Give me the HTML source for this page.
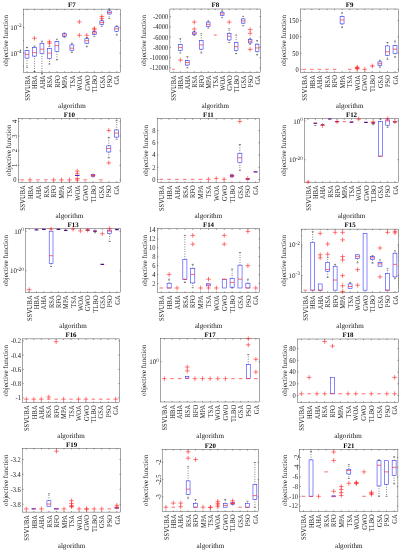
<!DOCTYPE html>
<html lang="en"><head><meta charset="utf-8"><title>Boxplots F7-F21</title>
<style>
html,body{margin:0;padding:0;background:#fff;}
body{width:403px;height:550px;overflow:hidden;}
svg{display:block;text-rendering:geometricPrecision;font-family:"Liberation Serif",serif;}
.tl{font-size:6.5px;fill:#181818;}
.lg{font-size:7.0px;}
.sup{font-size:5.2px;}
.pl{fill:none;stroke:#580c88;stroke-width:1.15;}
.tt{font-size:6.9px;font-weight:bold;fill:#000;}
.lb{font-size:7.1px;fill:#181818;}
.bx{fill:none;stroke:#2828ff;stroke-width:0.55;}
.md{fill:none;stroke:#ff2828;stroke-width:0.7;}
.wh{fill:none;stroke:#222;stroke-width:0.7;stroke-dasharray:0.8 1.6;}
.cap{fill:none;stroke:#222;stroke-width:0.6;}
.ol{fill:none;stroke:#ff2020;stroke-width:0.6;}
</style></head>
<body>
<svg width="403" height="550" viewBox="0 0 403 550">
<g>
<rect x="0" y="0" width="403" height="550" fill="#fff"/>
<g>
<rect x="23.25" y="9.1" width="97.25" height="63.2" fill="none" stroke="#000" stroke-width="0.35"/>
<path d="M26.99 9.1v1.1M26.99 72.3v-1.1M34.47 9.1v1.1M34.47 72.3v-1.1M41.95 9.1v1.1M41.95 72.3v-1.1M49.43 9.1v1.1M49.43 72.3v-1.1M56.91 9.1v1.1M56.91 72.3v-1.1M64.39 9.1v1.1M64.39 72.3v-1.1M71.88 9.1v1.1M71.88 72.3v-1.1M79.36 9.1v1.1M79.36 72.3v-1.1M86.84 9.1v1.1M86.84 72.3v-1.1M94.32 9.1v1.1M94.32 72.3v-1.1M101.8 9.1v1.1M101.8 72.3v-1.1M109.28 9.1v1.1M109.28 72.3v-1.1M116.76 9.1v1.1M116.76 72.3v-1.1M23.25 27.57h1.1M120.5 27.57h-1.1M23.25 53.13h1.1M120.5 53.13h-1.1M23.25 14.67h0.66M120.5 14.67h-0.66M23.25 40.48h0.66M120.5 40.48h-0.66M23.25 66.03h0.66M120.5 66.03h-0.66" stroke="#000" stroke-width="0.4" fill="none"/>
<text class="tl lg" x="21.55" y="30.17" text-anchor="end">10<tspan class="sup" dy="-2.7">-2</tspan></text>
<text class="tl lg" x="21.55" y="55.73" text-anchor="end">10<tspan class="sup" dy="-2.7">-4</tspan></text>
<text class="tl" transform="translate(29.69 75.2) rotate(-90) scale(1 1.15)" text-anchor="end">SSVUBA</text>
<text class="tl" transform="translate(37.17 75.2) rotate(-90) scale(1 1.15)" text-anchor="end">HBA</text>
<text class="tl" transform="translate(44.65 75.2) rotate(-90) scale(1 1.15)" text-anchor="end">AHA</text>
<text class="tl" transform="translate(52.13 75.2) rotate(-90) scale(1 1.15)" text-anchor="end">RSA</text>
<text class="tl" transform="translate(59.61 75.2) rotate(-90) scale(1 1.15)" text-anchor="end">RFO</text>
<text class="tl" transform="translate(67.09 75.2) rotate(-90) scale(1 1.15)" text-anchor="end">MPA</text>
<text class="tl" transform="translate(74.58 75.2) rotate(-90) scale(1 1.15)" text-anchor="end">TSA</text>
<text class="tl" transform="translate(82.06 75.2) rotate(-90) scale(1 1.15)" text-anchor="end">WOA</text>
<text class="tl" transform="translate(89.54 75.2) rotate(-90) scale(1 1.15)" text-anchor="end">GWO</text>
<text class="tl" transform="translate(97.02 75.2) rotate(-90) scale(1 1.15)" text-anchor="end">TLBO</text>
<text class="tl" transform="translate(104.5 75.2) rotate(-90) scale(1 1.15)" text-anchor="end">GSA</text>
<text class="tl" transform="translate(111.98 75.2) rotate(-90) scale(1 1.15)" text-anchor="end">PSO</text>
<text class="tl" transform="translate(119.46 75.2) rotate(-90) scale(1 1.15)" text-anchor="end">GA</text>
<text class="tt" x="71.88" y="7.4" text-anchor="middle">F7</text>
<text class="lb" transform="translate(71.88 108.1) scale(1.0 1)" text-anchor="middle">algorithm</text>
<text class="lb" transform="translate(7.8 40.7) rotate(-90) scale(1.0 1)" text-anchor="middle">objective function</text>
<clipPath id="cF7"><rect x="21.25" y="6.1" width="101.25" height="69.2"/></clipPath>
<g clip-path="url(#cF7)">
<path class="wh" d="M26.99 50.65V47.42"/>
<path class="cap" d="M26.02 47.42h1.95"/>
<path class="wh" d="M26.99 58.09V67.28"/>
<path class="cap" d="M26.02 67.28h1.95"/>
<rect class="bx" x="25.05" y="50.65" width="3.89" height="7.44"/>
<path class="md" d="M25.05 54.37h3.89"/>
<path class="wh" d="M34.47 47.42V46.18"/>
<path class="cap" d="M33.5 46.18h1.95"/>
<path class="wh" d="M34.47 56.11V71.49"/>
<path class="cap" d="M33.5 71.49h1.95"/>
<rect class="bx" x="32.53" y="47.42" width="3.89" height="8.68"/>
<path class="md" d="M32.53 52.64h3.89"/>
<path class="ol" d="M32.17 38.24h4.6M34.47 35.94v4.6"/>
<path class="wh" d="M41.95 43.21V41.22"/>
<path class="cap" d="M40.98 41.22h1.95"/>
<path class="wh" d="M41.95 53.63V73.98"/>
<path class="cap" d="M40.98 73.98h1.95"/>
<rect class="bx" x="40.01" y="43.21" width="3.89" height="10.42"/>
<path class="md" d="M40.01 49.16h3.89"/>
<path class="wh" d="M49.43 48.67V46.18"/>
<path class="cap" d="M48.46 46.18h1.95"/>
<path class="wh" d="M49.43 58.59V64.05"/>
<path class="cap" d="M48.46 64.05h1.95"/>
<rect class="bx" x="47.49" y="48.67" width="3.89" height="9.93"/>
<path class="md" d="M47.49 53.13h3.89"/>
<path class="ol" d="M47.13 41.72h4.6M49.43 39.42v4.6"/>
<path class="ol" d="M47.13 43.21h4.6M49.43 40.91v4.6"/>
<path class="wh" d="M56.91 41.72V39.24"/>
<path class="cap" d="M55.94 39.24h1.95"/>
<path class="wh" d="M56.91 51.64V59.83"/>
<path class="cap" d="M55.94 59.83h1.95"/>
<rect class="bx" x="54.97" y="41.72" width="3.89" height="9.93"/>
<path class="md" d="M54.97 45.69h3.89"/>
<path class="wh" d="M64.39 33.78V33.03"/>
<path class="cap" d="M63.42 33.03h1.95"/>
<path class="wh" d="M64.39 36.26V37.25"/>
<path class="cap" d="M63.42 37.25h1.95"/>
<rect class="bx" x="62.45" y="33.78" width="3.89" height="2.48"/>
<path class="md" d="M62.45 35.02h3.89"/>
<path class="wh" d="M71.88 44.94V43.21"/>
<path class="cap" d="M70.9 43.21h1.95"/>
<path class="wh" d="M71.88 50.65V52.39"/>
<path class="cap" d="M70.9 52.39h1.95"/>
<rect class="bx" x="69.93" y="44.94" width="3.89" height="5.71"/>
<path class="md" d="M69.93 48.17h3.89"/>
<path class="ol" d="M77.06 21.87h4.6M79.36 19.57v4.6"/>
<path class="ol" d="M77.06 35.27h4.6M79.36 32.97v4.6"/>
<path class="wh" d="M86.84 38.74V37.5"/>
<path class="cap" d="M85.86 37.5h1.95"/>
<path class="wh" d="M86.84 43.21V46.68"/>
<path class="cap" d="M85.86 46.68h1.95"/>
<rect class="bx" x="84.89" y="38.74" width="3.89" height="4.47"/>
<path class="md" d="M84.89 40.72h3.89"/>
<path class="ol" d="M84.54 35.27h4.6M86.84 32.97v4.6"/>
<path class="wh" d="M94.32 31.79V31.3"/>
<path class="cap" d="M93.34 31.3h1.95"/>
<path class="wh" d="M94.32 34.27V36.26"/>
<path class="cap" d="M93.34 36.26h1.95"/>
<rect class="bx" x="92.37" y="31.79" width="3.89" height="2.48"/>
<path class="md" d="M92.37 33.03h3.89"/>
<path class="ol" d="M92.02 28.32h4.6M94.32 26.02v4.6"/>
<path class="ol" d="M92.02 29.81h4.6M94.32 27.51v4.6"/>
<path class="wh" d="M101.8 20.87V19.88"/>
<path class="cap" d="M100.83 19.88h1.95"/>
<path class="wh" d="M101.8 24.35V26.33"/>
<path class="cap" d="M100.83 26.33h1.95"/>
<rect class="bx" x="99.85" y="20.87" width="3.89" height="3.47"/>
<path class="md" d="M99.85 22.61h3.89"/>
<path class="ol" d="M99.5 16.41h4.6M101.8 14.11v4.6"/>
<path class="ol" d="M99.5 18.39h4.6M101.8 16.09v4.6"/>
<path class="wh" d="M109.28 10.95V8.96"/>
<path class="cap" d="M108.31 8.96h1.95"/>
<path class="wh" d="M109.28 13.93V18.39"/>
<path class="cap" d="M108.31 18.39h1.95"/>
<rect class="bx" x="107.33" y="10.95" width="3.89" height="2.98"/>
<path class="md" d="M107.33 12.44h3.89"/>
<path class="wh" d="M116.76 26.83V25.84"/>
<path class="cap" d="M115.79 25.84h1.95"/>
<path class="wh" d="M116.76 31.3V35.02"/>
<path class="cap" d="M115.79 35.02h1.95"/>
<rect class="bx" x="114.81" y="26.83" width="3.89" height="4.47"/>
<path class="md" d="M114.81 28.81h3.89"/>
</g>
</g>
<g>
<rect x="169.9" y="9" width="90.7" height="63.3" fill="none" stroke="#000" stroke-width="0.35"/>
<path d="M173.39 9v1.1M173.39 72.3v-1.1M180.37 9v1.1M180.37 72.3v-1.1M187.34 9v1.1M187.34 72.3v-1.1M194.32 9v1.1M194.32 72.3v-1.1M201.3 9v1.1M201.3 72.3v-1.1M208.27 9v1.1M208.27 72.3v-1.1M215.25 9v1.1M215.25 72.3v-1.1M222.23 9v1.1M222.23 72.3v-1.1M229.2 9v1.1M229.2 72.3v-1.1M236.18 9v1.1M236.18 72.3v-1.1M243.16 9v1.1M243.16 72.3v-1.1M250.13 9v1.1M250.13 72.3v-1.1M257.11 9v1.1M257.11 72.3v-1.1M169.9 16.61h1.1M260.6 16.61h-1.1M169.9 26.85h1.1M260.6 26.85h-1.1M169.9 37.13h1.1M260.6 37.13h-1.1M169.9 47.37h1.1M260.6 47.37h-1.1M169.9 57.65h1.1M260.6 57.65h-1.1M169.9 67.9h1.1M260.6 67.9h-1.1" stroke="#000" stroke-width="0.4" fill="none"/>
<text class="tl" transform="translate(168.2 19.01) scale(1.0 1.15)" text-anchor="end">-2000</text>
<text class="tl" transform="translate(168.2 29.25) scale(1.0 1.15)" text-anchor="end">-4000</text>
<text class="tl" transform="translate(168.2 39.53) scale(1.0 1.15)" text-anchor="end">-6000</text>
<text class="tl" transform="translate(168.2 49.77) scale(1.0 1.15)" text-anchor="end">-8000</text>
<text class="tl" transform="translate(168.2 60.05) scale(1.0 1.15)" text-anchor="end">-10000</text>
<text class="tl" transform="translate(168.2 70.3) scale(1.0 1.15)" text-anchor="end">-12000</text>
<text class="tl" transform="translate(176.09 75.2) rotate(-90) scale(1 1.15)" text-anchor="end">SSVUBA</text>
<text class="tl" transform="translate(183.07 75.2) rotate(-90) scale(1 1.15)" text-anchor="end">HBA</text>
<text class="tl" transform="translate(190.04 75.2) rotate(-90) scale(1 1.15)" text-anchor="end">AHA</text>
<text class="tl" transform="translate(197.02 75.2) rotate(-90) scale(1 1.15)" text-anchor="end">RSA</text>
<text class="tl" transform="translate(204 75.2) rotate(-90) scale(1 1.15)" text-anchor="end">RFO</text>
<text class="tl" transform="translate(210.97 75.2) rotate(-90) scale(1 1.15)" text-anchor="end">MPA</text>
<text class="tl" transform="translate(217.95 75.2) rotate(-90) scale(1 1.15)" text-anchor="end">TSA</text>
<text class="tl" transform="translate(224.93 75.2) rotate(-90) scale(1 1.15)" text-anchor="end">WOA</text>
<text class="tl" transform="translate(231.9 75.2) rotate(-90) scale(1 1.15)" text-anchor="end">GWO</text>
<text class="tl" transform="translate(238.88 75.2) rotate(-90) scale(1 1.15)" text-anchor="end">TLBO</text>
<text class="tl" transform="translate(245.86 75.2) rotate(-90) scale(1 1.15)" text-anchor="end">GSA</text>
<text class="tl" transform="translate(252.83 75.2) rotate(-90) scale(1 1.15)" text-anchor="end">PSO</text>
<text class="tl" transform="translate(259.81 75.2) rotate(-90) scale(1 1.15)" text-anchor="end">GA</text>
<text class="tt" x="215.25" y="7.3" text-anchor="middle">F8</text>
<text class="lb" transform="translate(215.25 108.1) scale(1.0 1)" text-anchor="middle">algorithm</text>
<text class="lb" transform="translate(146 40.65) rotate(-90) scale(1.0 1)" text-anchor="middle">objective function</text>
<clipPath id="cF8"><rect x="167.9" y="6" width="94.7" height="69.3"/></clipPath>
<g clip-path="url(#cF8)">
<path class="md" d="M172.09 69.26h2.6"/>
<path class="wh" d="M180.37 44.45V38.74"/>
<path class="cap" d="M179.46 38.74h1.81"/>
<path class="wh" d="M180.37 50.4V52.88"/>
<path class="cap" d="M179.46 52.88h1.81"/>
<rect class="bx" x="178.55" y="44.45" width="3.63" height="5.96"/>
<path class="md" d="M178.55 47.42h3.63"/>
<path class="ol" d="M178.07 60.08h4.6M180.37 57.78v4.6"/>
<path class="wh" d="M187.34 60.58V56.61"/>
<path class="cap" d="M186.44 56.61h1.81"/>
<path class="wh" d="M187.34 65.04V67.77"/>
<path class="cap" d="M186.44 67.77h1.81"/>
<rect class="bx" x="185.53" y="60.58" width="3.63" height="4.47"/>
<path class="md" d="M185.53 62.56h3.63"/>
<path class="wh" d="M194.32 32.04V31.3"/>
<path class="cap" d="M193.41 31.3h1.81"/>
<path class="wh" d="M194.32 34.52V35.27"/>
<path class="cap" d="M193.41 35.27h1.81"/>
<rect class="bx" x="192.51" y="32.04" width="3.63" height="2.48"/>
<path class="md" d="M192.51 33.28h3.63"/>
<path class="ol" d="M192.02 22.11h4.6M194.32 19.81v4.6"/>
<path class="ol" d="M192.02 29.06h4.6M194.32 26.76v4.6"/>
<path class="wh" d="M201.3 40.72V33.78"/>
<path class="cap" d="M200.39 33.78h1.81"/>
<path class="wh" d="M201.3 49.16V52.88"/>
<path class="cap" d="M200.39 52.88h1.81"/>
<rect class="bx" x="199.48" y="40.72" width="3.63" height="8.44"/>
<path class="md" d="M199.48 44.94h3.63"/>
<path class="wh" d="M208.27 22.11V20.87"/>
<path class="cap" d="M207.37 20.87h1.81"/>
<path class="wh" d="M208.27 26.33V28.07"/>
<path class="cap" d="M207.37 28.07h1.81"/>
<rect class="bx" x="206.46" y="22.11" width="3.63" height="4.22"/>
<path class="md" d="M206.46 24.35h3.63"/>
<path class="md" d="M213.75 35.02h3"/>
<path class="wh" d="M222.23 12.19V10.95"/>
<path class="cap" d="M221.32 10.95h1.81"/>
<path class="wh" d="M222.23 15.41V17.65"/>
<path class="cap" d="M221.32 17.65h1.81"/>
<rect class="bx" x="220.41" y="12.19" width="3.63" height="3.23"/>
<path class="md" d="M220.41 13.93h3.63"/>
<path class="wh" d="M229.2 33.28V28.81"/>
<path class="cap" d="M228.3 28.81h1.81"/>
<path class="wh" d="M229.2 39.98V42.46"/>
<path class="cap" d="M228.3 42.46h1.81"/>
<rect class="bx" x="227.39" y="33.28" width="3.63" height="6.7"/>
<path class="md" d="M227.39 36.26h3.63"/>
<path class="ol" d="M226.9 22.11h4.6M229.2 19.81v4.6"/>
<path class="wh" d="M236.18 42.46V35.02"/>
<path class="cap" d="M235.27 35.02h1.81"/>
<path class="wh" d="M236.18 50.65V53.63"/>
<path class="cap" d="M235.27 53.63h1.81"/>
<rect class="bx" x="234.37" y="42.46" width="3.63" height="8.19"/>
<path class="md" d="M234.37 46.68h3.63"/>
<path class="wh" d="M243.16 18.89V16.41"/>
<path class="cap" d="M242.25 16.41h1.81"/>
<path class="wh" d="M243.16 23.11V25.84"/>
<path class="cap" d="M242.25 25.84h1.81"/>
<rect class="bx" x="241.34" y="18.89" width="3.63" height="4.22"/>
<path class="md" d="M241.34 20.87h3.63"/>
<path class="wh" d="M250.13 39.48V38.24"/>
<path class="cap" d="M249.23 38.24h1.81"/>
<path class="wh" d="M250.13 42.96V44.2"/>
<path class="cap" d="M249.23 44.2h1.81"/>
<rect class="bx" x="248.32" y="39.48" width="3.63" height="3.47"/>
<path class="md" d="M248.32 41.22h3.63"/>
<path class="ol" d="M247.83 29.56h4.6M250.13 27.26v4.6"/>
<path class="ol" d="M247.83 33.28h4.6M250.13 30.98v4.6"/>
<path class="ol" d="M247.83 49.41h4.6M250.13 47.11v4.6"/>
<path class="wh" d="M257.11 44.2V40.48"/>
<path class="cap" d="M256.2 40.48h1.81"/>
<path class="wh" d="M257.11 51.64V54.87"/>
<path class="cap" d="M256.2 54.87h1.81"/>
<rect class="bx" x="255.3" y="44.2" width="3.63" height="7.44"/>
<path class="md" d="M255.3 47.92h3.63"/>
</g>
</g>
<g>
<rect x="300.5" y="9" width="98.3" height="63.2" fill="none" stroke="#000" stroke-width="0.35"/>
<path d="M304.28 9v1.1M304.28 72.2v-1.1M311.84 9v1.1M311.84 72.2v-1.1M319.4 9v1.1M319.4 72.2v-1.1M326.97 9v1.1M326.97 72.2v-1.1M334.53 9v1.1M334.53 72.2v-1.1M342.09 9v1.1M342.09 72.2v-1.1M349.65 9v1.1M349.65 72.2v-1.1M357.21 9v1.1M357.21 72.2v-1.1M364.77 9v1.1M364.77 72.2v-1.1M372.33 9v1.1M372.33 72.2v-1.1M379.9 9v1.1M379.9 72.2v-1.1M387.46 9v1.1M387.46 72.2v-1.1M395.02 9v1.1M395.02 72.2v-1.1M300.5 20.73h1.1M398.8 20.73h-1.1M300.5 36.93h1.1M398.8 36.93h-1.1M300.5 53.12h1.1M398.8 53.12h-1.1M300.5 69.32h1.1M398.8 69.32h-1.1" stroke="#000" stroke-width="0.4" fill="none"/>
<text class="tl" transform="translate(298.8 23.13) scale(1.0 1.15)" text-anchor="end">150</text>
<text class="tl" transform="translate(298.8 39.33) scale(1.0 1.15)" text-anchor="end">100</text>
<text class="tl" transform="translate(298.8 55.52) scale(1.0 1.15)" text-anchor="end">50</text>
<text class="tl" transform="translate(298.8 71.72) scale(1.0 1.15)" text-anchor="end">0</text>
<text class="tl" transform="translate(306.98 75.1) rotate(-90) scale(1 1.15)" text-anchor="end">SSVUBA</text>
<text class="tl" transform="translate(314.54 75.1) rotate(-90) scale(1 1.15)" text-anchor="end">HBA</text>
<text class="tl" transform="translate(322.1 75.1) rotate(-90) scale(1 1.15)" text-anchor="end">AHA</text>
<text class="tl" transform="translate(329.67 75.1) rotate(-90) scale(1 1.15)" text-anchor="end">RSA</text>
<text class="tl" transform="translate(337.23 75.1) rotate(-90) scale(1 1.15)" text-anchor="end">RFO</text>
<text class="tl" transform="translate(344.79 75.1) rotate(-90) scale(1 1.15)" text-anchor="end">MPA</text>
<text class="tl" transform="translate(352.35 75.1) rotate(-90) scale(1 1.15)" text-anchor="end">TSA</text>
<text class="tl" transform="translate(359.91 75.1) rotate(-90) scale(1 1.15)" text-anchor="end">WOA</text>
<text class="tl" transform="translate(367.47 75.1) rotate(-90) scale(1 1.15)" text-anchor="end">GWO</text>
<text class="tl" transform="translate(375.03 75.1) rotate(-90) scale(1 1.15)" text-anchor="end">TLBO</text>
<text class="tl" transform="translate(382.6 75.1) rotate(-90) scale(1 1.15)" text-anchor="end">GSA</text>
<text class="tl" transform="translate(390.16 75.1) rotate(-90) scale(1 1.15)" text-anchor="end">PSO</text>
<text class="tl" transform="translate(397.72 75.1) rotate(-90) scale(1 1.15)" text-anchor="end">GA</text>
<text class="tt" x="349.65" y="7.3" text-anchor="middle">F9</text>
<text class="lb" transform="translate(349.65 108.1) scale(1.0 1)" text-anchor="middle">algorithm</text>
<text class="lb" transform="translate(286.1 40.6) rotate(-90) scale(1.0 1)" text-anchor="middle">objective function</text>
<clipPath id="cF9"><rect x="298.5" y="6" width="102.3" height="69.2"/></clipPath>
<g clip-path="url(#cF9)">
<path class="md" d="M302.55 69.32h3.46"/>
<path class="md" d="M310.11 69.32h3.46"/>
<path class="md" d="M317.67 69.32h3.46"/>
<path class="md" d="M325.24 69.32h3.46"/>
<path class="md" d="M332.8 69.32h3.46"/>
<path class="wh" d="M342.09 16.48V12.76"/>
<path class="cap" d="M341.11 12.76h1.97"/>
<path class="wh" d="M342.09 23.92V27.37"/>
<path class="cap" d="M341.11 27.37h1.97"/>
<rect class="bx" x="340.12" y="16.48" width="3.93" height="7.43"/>
<path class="md" d="M340.12 19.93h3.93"/>
<path class="md" d="M347.92 69.32h3.46"/>
<path class="md" d="M355.21 68.26h4"/>
<path class="ol" d="M354.91 67.2h4.6M357.21 64.9v4.6"/>
<path class="ol" d="M354.91 67.99h4.6M357.21 65.69v4.6"/>
<path class="ol" d="M354.91 68.79h4.6M357.21 66.49v4.6"/>
<path class="ol" d="M362.47 69.32h4.6M364.77 67.02v4.6"/>
<path class="md" d="M371.33 66.13h2"/>
<path class="ol" d="M370.03 65.87h4.6M372.33 63.57v4.6"/>
<path class="wh" d="M379.9 61.89V60.29"/>
<path class="cap" d="M378.91 60.29h1.97"/>
<path class="wh" d="M379.9 65.6V67.2"/>
<path class="cap" d="M378.91 67.2h1.97"/>
<rect class="bx" x="377.93" y="61.89" width="3.93" height="3.72"/>
<path class="md" d="M377.93 63.75h3.93"/>
<path class="wh" d="M387.46 45.95V42.5"/>
<path class="cap" d="M386.47 42.5h1.97"/>
<path class="wh" d="M387.46 55.25V59.23"/>
<path class="cap" d="M386.47 59.23h1.97"/>
<rect class="bx" x="385.49" y="45.95" width="3.93" height="9.29"/>
<path class="md" d="M385.49 51.8h3.93"/>
<path class="wh" d="M395.02 45.69V41.17"/>
<path class="cap" d="M394.04 41.17h1.97"/>
<path class="wh" d="M395.02 53.65V57.11"/>
<path class="cap" d="M394.04 57.11h1.97"/>
<rect class="bx" x="393.05" y="45.69" width="3.93" height="7.97"/>
<path class="md" d="M393.05 49.14h3.93"/>
</g>
</g>
<g>
<rect x="18.25" y="118.6" width="102.35" height="63.7" fill="none" stroke="#000" stroke-width="0.35"/>
<path d="M22.19 118.6v1.1M22.19 182.3v-1.1M30.06 118.6v1.1M30.06 182.3v-1.1M37.93 118.6v1.1M37.93 182.3v-1.1M45.81 118.6v1.1M45.81 182.3v-1.1M53.68 118.6v1.1M53.68 182.3v-1.1M61.55 118.6v1.1M61.55 182.3v-1.1M69.42 118.6v1.1M69.42 182.3v-1.1M77.3 118.6v1.1M77.3 182.3v-1.1M85.17 118.6v1.1M85.17 182.3v-1.1M93.04 118.6v1.1M93.04 182.3v-1.1M100.92 118.6v1.1M100.92 182.3v-1.1M108.79 118.6v1.1M108.79 182.3v-1.1M116.66 118.6v1.1M116.66 182.3v-1.1M18.25 121.41h1.1M120.6 121.41h-1.1M18.25 136.04h1.1M120.6 136.04h-1.1M18.25 150.7h1.1M120.6 150.7h-1.1M18.25 165.35h1.1M120.6 165.35h-1.1M18.25 180.01h1.1M120.6 180.01h-1.1" stroke="#000" stroke-width="0.4" fill="none"/>
<text class="tl" transform="translate(17.25 121.41) rotate(-90) scale(1 1.15)" text-anchor="middle">4</text>
<text class="tl" transform="translate(17.25 136.04) rotate(-90) scale(1 1.15)" text-anchor="middle">3</text>
<text class="tl" transform="translate(17.25 150.7) rotate(-90) scale(1 1.15)" text-anchor="middle">2</text>
<text class="tl" transform="translate(17.25 165.35) rotate(-90) scale(1 1.15)" text-anchor="middle">1</text>
<text class="tl" transform="translate(16.55 182.41) scale(1.0 1.15)" text-anchor="end">0</text>
<text class="tl" transform="translate(24.89 185.2) rotate(-90) scale(1 1.15)" text-anchor="end">SSVUBA</text>
<text class="tl" transform="translate(32.76 185.2) rotate(-90) scale(1 1.15)" text-anchor="end">HBA</text>
<text class="tl" transform="translate(40.63 185.2) rotate(-90) scale(1 1.15)" text-anchor="end">AHA</text>
<text class="tl" transform="translate(48.51 185.2) rotate(-90) scale(1 1.15)" text-anchor="end">RSA</text>
<text class="tl" transform="translate(56.38 185.2) rotate(-90) scale(1 1.15)" text-anchor="end">RFO</text>
<text class="tl" transform="translate(64.25 185.2) rotate(-90) scale(1 1.15)" text-anchor="end">MPA</text>
<text class="tl" transform="translate(72.12 185.2) rotate(-90) scale(1 1.15)" text-anchor="end">TSA</text>
<text class="tl" transform="translate(80 185.2) rotate(-90) scale(1 1.15)" text-anchor="end">WOA</text>
<text class="tl" transform="translate(87.87 185.2) rotate(-90) scale(1 1.15)" text-anchor="end">GWO</text>
<text class="tl" transform="translate(95.74 185.2) rotate(-90) scale(1 1.15)" text-anchor="end">TLBO</text>
<text class="tl" transform="translate(103.62 185.2) rotate(-90) scale(1 1.15)" text-anchor="end">GSA</text>
<text class="tl" transform="translate(111.49 185.2) rotate(-90) scale(1 1.15)" text-anchor="end">PSO</text>
<text class="tl" transform="translate(119.36 185.2) rotate(-90) scale(1 1.15)" text-anchor="end">GA</text>
<text class="tt" x="69.42" y="116.9" text-anchor="middle">F10</text>
<text class="lb" transform="translate(69.42 218.1) scale(1.0 1)" text-anchor="middle">algorithm</text>
<text class="lb" transform="translate(10.6 150.45) rotate(-90) scale(1.0 1)" text-anchor="middle">objective function</text>
<clipPath id="cF10"><rect x="16.25" y="115.6" width="106.35" height="69.7"/></clipPath>
<g clip-path="url(#cF10)">
<path class="md" d="M20.39 179.85h3.6"/>
<path class="ol" d="M27.76 179.85h4.6M30.06 177.55v4.6"/>
<path class="md" d="M36.13 179.85h3.6"/>
<path class="md" d="M44 179.85h3.6"/>
<path class="ol" d="M51.38 179.85h4.6M53.68 177.55v4.6"/>
<path class="ol" d="M59.25 179.85h4.6M61.55 177.55v4.6"/>
<path class="ol" d="M67.12 179.85h4.6M69.42 177.55v4.6"/>
<rect class="bx" x="75.25" y="175.34" width="4.09" height="0.4"/>
<path class="ol" d="M75 171.09h4.6M77.3 168.79v4.6"/>
<path class="ol" d="M75 173.75h4.6M77.3 171.45v4.6"/>
<path class="ol" d="M75 178.52h4.6M77.3 176.22v4.6"/>
<path class="ol" d="M75 179.99h4.6M77.3 177.69v4.6"/>
<path class="md" d="M83.37 179.85h3.6"/>
<rect class="bx" x="91.34" y="174.54" width="3.4" height="2.12"/>
<path class="md" d="M91.34 175.6h3.4"/>
<path class="ol" d="M90.74 175.6h4.6M93.04 173.3v4.6"/>
<path class="md" d="M99.12 179.85h3.6"/>
<path class="wh" d="M108.79 145.86V137.37"/>
<path class="cap" d="M107.77 137.37h2.05"/>
<path class="wh" d="M108.79 151.97V157.81"/>
<path class="cap" d="M107.77 157.81h2.05"/>
<rect class="bx" x="106.74" y="145.86" width="4.09" height="6.11"/>
<path class="md" d="M106.74 148.52h4.09"/>
<path class="ol" d="M106.49 130.46h4.6M108.79 128.16v4.6"/>
<path class="ol" d="M106.49 162.86h4.6M108.79 160.56v4.6"/>
<path class="wh" d="M116.66 129.93V120.64"/>
<path class="cap" d="M115.64 120.64h2.05"/>
<path class="wh" d="M116.66 137.1V139.23"/>
<path class="cap" d="M115.64 139.23h2.05"/>
<rect class="bx" x="114.62" y="129.93" width="4.09" height="7.17"/>
<path class="md" d="M114.62 133.12h4.09"/>
</g>
</g>
<g>
<rect x="157.3" y="118.7" width="102.2" height="63.8" fill="none" stroke="#000" stroke-width="0.35"/>
<path d="M161.23 118.7v1.1M161.23 182.5v-1.1M169.09 118.7v1.1M169.09 182.5v-1.1M176.95 118.7v1.1M176.95 182.5v-1.1M184.82 118.7v1.1M184.82 182.5v-1.1M192.68 118.7v1.1M192.68 182.5v-1.1M200.54 118.7v1.1M200.54 182.5v-1.1M208.4 118.7v1.1M208.4 182.5v-1.1M216.26 118.7v1.1M216.26 182.5v-1.1M224.12 118.7v1.1M224.12 182.5v-1.1M231.98 118.7v1.1M231.98 182.5v-1.1M239.85 118.7v1.1M239.85 182.5v-1.1M247.71 118.7v1.1M247.71 182.5v-1.1M255.57 118.7v1.1M255.57 182.5v-1.1M157.3 179.51h1.1M259.5 179.51h-1.1M157.3 167.27h1.1M259.5 167.27h-1.1M157.3 155.05h1.1M259.5 155.05h-1.1M157.3 142.81h1.1M259.5 142.81h-1.1M157.3 130.6h1.1M259.5 130.6h-1.1" stroke="#000" stroke-width="0.4" fill="none"/>
<text class="tl" transform="translate(155.6 181.91) scale(1.0 1.15)" text-anchor="end">0</text>
<text class="tl" transform="translate(155.6 169.67) scale(1.0 1.15)" text-anchor="end">2</text>
<text class="tl" transform="translate(155.6 157.45) scale(1.0 1.15)" text-anchor="end">4</text>
<text class="tl" transform="translate(155.6 145.21) scale(1.0 1.15)" text-anchor="end">6</text>
<text class="tl" transform="translate(155.6 133) scale(1.0 1.15)" text-anchor="end">8</text>
<text class="tl" transform="translate(163.93 185.4) rotate(-90) scale(1 1.15)" text-anchor="end">SSVUBA</text>
<text class="tl" transform="translate(171.79 185.4) rotate(-90) scale(1 1.15)" text-anchor="end">HBA</text>
<text class="tl" transform="translate(179.65 185.4) rotate(-90) scale(1 1.15)" text-anchor="end">AHA</text>
<text class="tl" transform="translate(187.52 185.4) rotate(-90) scale(1 1.15)" text-anchor="end">RSA</text>
<text class="tl" transform="translate(195.38 185.4) rotate(-90) scale(1 1.15)" text-anchor="end">RFO</text>
<text class="tl" transform="translate(203.24 185.4) rotate(-90) scale(1 1.15)" text-anchor="end">MPA</text>
<text class="tl" transform="translate(211.1 185.4) rotate(-90) scale(1 1.15)" text-anchor="end">TSA</text>
<text class="tl" transform="translate(218.96 185.4) rotate(-90) scale(1 1.15)" text-anchor="end">WOA</text>
<text class="tl" transform="translate(226.82 185.4) rotate(-90) scale(1 1.15)" text-anchor="end">GWO</text>
<text class="tl" transform="translate(234.68 185.4) rotate(-90) scale(1 1.15)" text-anchor="end">TLBO</text>
<text class="tl" transform="translate(242.55 185.4) rotate(-90) scale(1 1.15)" text-anchor="end">GSA</text>
<text class="tl" transform="translate(250.41 185.4) rotate(-90) scale(1 1.15)" text-anchor="end">PSO</text>
<text class="tl" transform="translate(258.27 185.4) rotate(-90) scale(1 1.15)" text-anchor="end">GA</text>
<text class="tt" x="208.4" y="117" text-anchor="middle">F11</text>
<text class="lb" transform="translate(208.4 218.1) scale(1.0 1)" text-anchor="middle">algorithm</text>
<text class="lb" transform="translate(148.2 150.6) rotate(-90) scale(1.0 1)" text-anchor="middle">objective function</text>
<clipPath id="cF11"><rect x="155.3" y="115.7" width="106.2" height="69.8"/></clipPath>
<g clip-path="url(#cF11)">
<path class="md" d="M159.43 179.32h3.6"/>
<path class="md" d="M167.29 179.32h3.6"/>
<path class="md" d="M175.16 179.32h3.6"/>
<path class="md" d="M183.02 179.32h3.6"/>
<path class="md" d="M190.88 179.32h3.6"/>
<path class="md" d="M198.74 179.32h3.6"/>
<path class="ol" d="M206.1 179.32h4.6M208.4 177.02v4.6"/>
<path class="ol" d="M213.96 178.52h4.6M216.26 176.22v4.6"/>
<path class="ol" d="M221.82 179.32h4.6M224.12 177.02v4.6"/>
<rect class="bx" x="230.28" y="174.81" width="3.4" height="2.12"/>
<path class="pl" d="M230.38 175.87h3.2"/>
<path class="ol" d="M229.68 175.87h4.6M231.98 173.57v4.6"/>
<path class="wh" d="M239.85 153.3V144.54"/>
<path class="cap" d="M238.82 144.54h2.04"/>
<path class="wh" d="M239.85 162.59V170.29"/>
<path class="cap" d="M238.82 170.29h2.04"/>
<rect class="bx" x="237.8" y="153.3" width="4.09" height="9.29"/>
<path class="md" d="M237.8 157.81h4.09"/>
<path class="ol" d="M237.55 121.43h4.6M239.85 119.13v4.6"/>
<path class="pl" d="M245.76 179.06h3.89"/>
<path class="ol" d="M245.41 178.52h4.6M247.71 176.22v4.6"/>
<path class="pl" d="M253.63 171.89h3.89"/>
</g>
</g>
<g>
<rect x="304.5" y="118.8" width="94" height="63.5" fill="none" stroke="#000" stroke-width="0.35"/>
<path d="M308.12 118.8v1.1M308.12 182.3v-1.1M315.35 118.8v1.1M315.35 182.3v-1.1M322.58 118.8v1.1M322.58 182.3v-1.1M329.81 118.8v1.1M329.81 182.3v-1.1M337.04 118.8v1.1M337.04 182.3v-1.1M344.27 118.8v1.1M344.27 182.3v-1.1M351.5 118.8v1.1M351.5 182.3v-1.1M358.73 118.8v1.1M358.73 182.3v-1.1M365.96 118.8v1.1M365.96 182.3v-1.1M373.19 118.8v1.1M373.19 182.3v-1.1M380.42 118.8v1.1M380.42 182.3v-1.1M387.65 118.8v1.1M387.65 182.3v-1.1M394.88 118.8v1.1M394.88 182.3v-1.1M304.5 121.03h1.1M398.5 121.03h-1.1M304.5 159.74h1.1M398.5 159.74h-1.1" stroke="#000" stroke-width="0.4" fill="none"/>
<text class="tl lg" x="302.8" y="123.63" text-anchor="end">10<tspan class="sup" dy="-2.7">0</tspan></text>
<text class="tl lg" x="302.8" y="162.34" text-anchor="end">10<tspan class="sup" dy="-2.7">-20</tspan></text>
<text class="tl" transform="translate(310.82 185.2) rotate(-90) scale(1 1.15)" text-anchor="end">SSVUBA</text>
<text class="tl" transform="translate(318.05 185.2) rotate(-90) scale(1 1.15)" text-anchor="end">HBA</text>
<text class="tl" transform="translate(325.28 185.2) rotate(-90) scale(1 1.15)" text-anchor="end">AHA</text>
<text class="tl" transform="translate(332.51 185.2) rotate(-90) scale(1 1.15)" text-anchor="end">RSA</text>
<text class="tl" transform="translate(339.74 185.2) rotate(-90) scale(1 1.15)" text-anchor="end">RFO</text>
<text class="tl" transform="translate(346.97 185.2) rotate(-90) scale(1 1.15)" text-anchor="end">MPA</text>
<text class="tl" transform="translate(354.2 185.2) rotate(-90) scale(1 1.15)" text-anchor="end">TSA</text>
<text class="tl" transform="translate(361.43 185.2) rotate(-90) scale(1 1.15)" text-anchor="end">WOA</text>
<text class="tl" transform="translate(368.66 185.2) rotate(-90) scale(1 1.15)" text-anchor="end">GWO</text>
<text class="tl" transform="translate(375.89 185.2) rotate(-90) scale(1 1.15)" text-anchor="end">TLBO</text>
<text class="tl" transform="translate(383.12 185.2) rotate(-90) scale(1 1.15)" text-anchor="end">GSA</text>
<text class="tl" transform="translate(390.35 185.2) rotate(-90) scale(1 1.15)" text-anchor="end">PSO</text>
<text class="tl" transform="translate(397.58 185.2) rotate(-90) scale(1 1.15)" text-anchor="end">GA</text>
<text class="tt" x="351.5" y="117.1" text-anchor="middle">F12</text>
<text class="lb" transform="translate(351.5 218.1) scale(1.0 1)" text-anchor="middle">algorithm</text>
<text class="lb" transform="translate(286 150.55) rotate(-90) scale(1.0 1)" text-anchor="middle">objective function</text>
<clipPath id="cF12"><rect x="302.5" y="115.8" width="98" height="69.5"/></clipPath>
<g clip-path="url(#cF12)">
<path class="ol" d="M305.82 181.98h4.6M308.12 179.68v4.6"/>
<path class="wh" d="M315.35 123.2V125.5"/>
<path class="cap" d="M314.41 125.5h1.88"/>
<path class="md" d="M313.69 123.2h3.31"/>
<path class="pl" d="M313.57 123.2h3.56"/>
<path class="pl" d="M320.8 124.73h3.56"/>
<path class="ol" d="M320.28 125.5h4.6M322.58 123.2v4.6"/>
<path class="pl" d="M328.03 118.98h3.56"/>
<path class="pl" d="M335.26 121.67h3.56"/>
<path class="ol" d="M334.74 121.67h4.6M337.04 119.37v4.6"/>
<path class="md" d="M342.57 121.67h3.4"/>
<path class="md" d="M349.85 122.18h3.31"/>
<path class="pl" d="M349.72 122.18h3.56"/>
<path class="ol" d="M356.43 119.11h4.6M358.73 116.81v4.6"/>
<path class="pl" d="M364.18 122.43h3.56"/>
<path class="wh" d="M373.19 122.94V124.73"/>
<path class="cap" d="M372.25 124.73h1.88"/>
<path class="md" d="M371.54 122.94h3.31"/>
<path class="pl" d="M371.41 122.94h3.56"/>
<path class="ol" d="M370.89 121.92h4.6M373.19 119.62v4.6"/>
<path class="wh" d="M380.42 121.67V119.11"/>
<path class="cap" d="M379.48 119.11h1.88"/>
<rect class="bx" x="378.54" y="121.67" width="3.76" height="34.5"/>
<path class="md" d="M378.54 156.17h3.76"/>
<path class="wh" d="M387.65 125.5V127.29"/>
<path class="cap" d="M386.71 127.29h1.88"/>
<rect class="bx" x="385.77" y="119.88" width="3.76" height="5.62"/>
<path class="md" d="M385.77 120.9h3.76"/>
<path class="ol" d="M385.35 118.6h4.6M387.65 116.3v4.6"/>
<path class="pl" d="M393.1 121.92h3.56"/>
<path class="ol" d="M392.58 121.67h4.6M394.88 119.37v4.6"/>
</g>
</g>
<g>
<rect x="25.5" y="228.8" width="95.1" height="63.7" fill="none" stroke="#000" stroke-width="0.35"/>
<path d="M29.16 228.8v1.1M29.16 292.5v-1.1M36.47 228.8v1.1M36.47 292.5v-1.1M43.79 228.8v1.1M43.79 292.5v-1.1M51.1 228.8v1.1M51.1 292.5v-1.1M58.42 228.8v1.1M58.42 292.5v-1.1M65.73 228.8v1.1M65.73 292.5v-1.1M73.05 228.8v1.1M73.05 292.5v-1.1M80.37 228.8v1.1M80.37 292.5v-1.1M87.68 228.8v1.1M87.68 292.5v-1.1M95 228.8v1.1M95 292.5v-1.1M102.31 228.8v1.1M102.31 292.5v-1.1M109.63 228.8v1.1M109.63 292.5v-1.1M116.94 228.8v1.1M116.94 292.5v-1.1M25.5 231.28h1.1M120.6 231.28h-1.1M25.5 270.77h1.1M120.6 270.77h-1.1" stroke="#000" stroke-width="0.4" fill="none"/>
<text class="tl lg" x="23.8" y="233.88" text-anchor="end">10<tspan class="sup" dy="-2.7">0</tspan></text>
<text class="tl lg" x="23.8" y="273.37" text-anchor="end">10<tspan class="sup" dy="-2.7">-20</tspan></text>
<text class="tl" transform="translate(31.86 295.4) rotate(-90) scale(1 1.15)" text-anchor="end">SSVUBA</text>
<text class="tl" transform="translate(39.17 295.4) rotate(-90) scale(1 1.15)" text-anchor="end">HBA</text>
<text class="tl" transform="translate(46.49 295.4) rotate(-90) scale(1 1.15)" text-anchor="end">AHA</text>
<text class="tl" transform="translate(53.8 295.4) rotate(-90) scale(1 1.15)" text-anchor="end">RSA</text>
<text class="tl" transform="translate(61.12 295.4) rotate(-90) scale(1 1.15)" text-anchor="end">RFO</text>
<text class="tl" transform="translate(68.43 295.4) rotate(-90) scale(1 1.15)" text-anchor="end">MPA</text>
<text class="tl" transform="translate(75.75 295.4) rotate(-90) scale(1 1.15)" text-anchor="end">TSA</text>
<text class="tl" transform="translate(83.07 295.4) rotate(-90) scale(1 1.15)" text-anchor="end">WOA</text>
<text class="tl" transform="translate(90.38 295.4) rotate(-90) scale(1 1.15)" text-anchor="end">GWO</text>
<text class="tl" transform="translate(97.7 295.4) rotate(-90) scale(1 1.15)" text-anchor="end">TLBO</text>
<text class="tl" transform="translate(105.01 295.4) rotate(-90) scale(1 1.15)" text-anchor="end">GSA</text>
<text class="tl" transform="translate(112.33 295.4) rotate(-90) scale(1 1.15)" text-anchor="end">PSO</text>
<text class="tl" transform="translate(119.64 295.4) rotate(-90) scale(1 1.15)" text-anchor="end">GA</text>
<text class="tt" x="73.05" y="227.1" text-anchor="middle">F13</text>
<text class="lb" transform="translate(73.05 328.1) scale(1.0 1)" text-anchor="middle">algorithm</text>
<text class="lb" transform="translate(7.6 260.65) rotate(-90) scale(1.0 1)" text-anchor="middle">objective function</text>
<clipPath id="cF13"><rect x="23.5" y="225.8" width="99.1" height="69.7"/></clipPath>
<g clip-path="url(#cF13)">
<path class="ol" d="M26.86 289.68h4.6M29.16 287.38v4.6"/>
<path class="pl" d="M34.67 229.88h3.6"/>
<path class="pl" d="M41.99 229.37h3.6"/>
<path class="wh" d="M51.1 263.61V266.42"/>
<path class="cap" d="M50.15 266.42h1.9"/>
<rect class="bx" x="49.2" y="231.16" width="3.8" height="32.46"/>
<path class="md" d="M49.2 255.69h3.8"/>
<path class="ol" d="M48.8 229.11h4.6M51.1 226.81v4.6"/>
<path class="pl" d="M56.62 229.37h3.6"/>
<path class="pl" d="M63.93 230.39h3.6"/>
<path class="ol" d="M70.75 229.11h4.6M73.05 226.81v4.6"/>
<path class="ol" d="M78.07 230.9h4.6M80.37 228.6v4.6"/>
<path class="pl" d="M85.88 230.13h3.6"/>
<path class="ol" d="M85.38 230.13h4.6M87.68 227.83v4.6"/>
<path class="wh" d="M95 231.16V232.69"/>
<path class="cap" d="M94.05 232.69h1.9"/>
<path class="md" d="M93.32 231.16h3.35"/>
<path class="pl" d="M93.19 231.16h3.6"/>
<path class="pl" d="M100.51 264.38h3.6"/>
<path class="ol" d="M100.01 233.71h4.6M102.31 231.41v4.6"/>
<path class="wh" d="M109.63 233.71V241.38"/>
<path class="cap" d="M108.68 241.38h1.9"/>
<rect class="bx" x="107.72" y="230.13" width="3.8" height="3.58"/>
<path class="md" d="M107.72 231.16h3.8"/>
<path class="ol" d="M107.33 228.6h4.6M109.63 226.3v4.6"/>
<path class="pl" d="M115.14 229.62h3.6"/>
</g>
</g>
<g>
<rect x="157.3" y="228.8" width="102.4" height="63.7" fill="none" stroke="#000" stroke-width="0.35"/>
<path d="M161.24 228.8v1.1M161.24 292.5v-1.1M169.12 228.8v1.1M169.12 292.5v-1.1M176.99 228.8v1.1M176.99 292.5v-1.1M184.87 228.8v1.1M184.87 292.5v-1.1M192.75 228.8v1.1M192.75 292.5v-1.1M200.62 228.8v1.1M200.62 292.5v-1.1M208.5 228.8v1.1M208.5 292.5v-1.1M216.38 228.8v1.1M216.38 292.5v-1.1M224.25 228.8v1.1M224.25 292.5v-1.1M232.13 228.8v1.1M232.13 292.5v-1.1M240.01 228.8v1.1M240.01 292.5v-1.1M247.88 228.8v1.1M247.88 292.5v-1.1M255.76 228.8v1.1M255.76 292.5v-1.1M157.3 229.97h1.1M259.7 229.97h-1.1M157.3 238.9h1.1M259.7 238.9h-1.1M157.3 247.82h1.1M259.7 247.82h-1.1M157.3 256.74h1.1M259.7 256.74h-1.1M157.3 265.66h1.1M259.7 265.66h-1.1M157.3 274.58h1.1M259.7 274.58h-1.1M157.3 283.51h1.1M259.7 283.51h-1.1" stroke="#000" stroke-width="0.4" fill="none"/>
<text class="tl" transform="translate(155.6 232.37) scale(1.0 1.15)" text-anchor="end">14</text>
<text class="tl" transform="translate(155.6 241.3) scale(1.0 1.15)" text-anchor="end">12</text>
<text class="tl" transform="translate(155.6 250.22) scale(1.0 1.15)" text-anchor="end">10</text>
<text class="tl" transform="translate(155.6 259.14) scale(1.0 1.15)" text-anchor="end">8</text>
<text class="tl" transform="translate(155.6 268.06) scale(1.0 1.15)" text-anchor="end">6</text>
<text class="tl" transform="translate(155.6 276.98) scale(1.0 1.15)" text-anchor="end">4</text>
<text class="tl" transform="translate(155.6 285.91) scale(1.0 1.15)" text-anchor="end">2</text>
<text class="tl" transform="translate(163.94 295.4) rotate(-90) scale(1 1.15)" text-anchor="end">SSVUBA</text>
<text class="tl" transform="translate(171.82 295.4) rotate(-90) scale(1 1.15)" text-anchor="end">HBA</text>
<text class="tl" transform="translate(179.69 295.4) rotate(-90) scale(1 1.15)" text-anchor="end">AHA</text>
<text class="tl" transform="translate(187.57 295.4) rotate(-90) scale(1 1.15)" text-anchor="end">RSA</text>
<text class="tl" transform="translate(195.45 295.4) rotate(-90) scale(1 1.15)" text-anchor="end">RFO</text>
<text class="tl" transform="translate(203.32 295.4) rotate(-90) scale(1 1.15)" text-anchor="end">MPA</text>
<text class="tl" transform="translate(211.2 295.4) rotate(-90) scale(1 1.15)" text-anchor="end">TSA</text>
<text class="tl" transform="translate(219.08 295.4) rotate(-90) scale(1 1.15)" text-anchor="end">WOA</text>
<text class="tl" transform="translate(226.95 295.4) rotate(-90) scale(1 1.15)" text-anchor="end">GWO</text>
<text class="tl" transform="translate(234.83 295.4) rotate(-90) scale(1 1.15)" text-anchor="end">TLBO</text>
<text class="tl" transform="translate(242.71 295.4) rotate(-90) scale(1 1.15)" text-anchor="end">GSA</text>
<text class="tl" transform="translate(250.58 295.4) rotate(-90) scale(1 1.15)" text-anchor="end">PSO</text>
<text class="tl" transform="translate(258.46 295.4) rotate(-90) scale(1 1.15)" text-anchor="end">GA</text>
<text class="tt" x="208.5" y="227.1" text-anchor="middle">F14</text>
<text class="lb" transform="translate(208.5 328.1) scale(1.0 1)" text-anchor="middle">algorithm</text>
<text class="lb" transform="translate(146.6 260.65) rotate(-90) scale(1.0 1)" text-anchor="middle">objective function</text>
<clipPath id="cF14"><rect x="155.3" y="225.8" width="106.4" height="69.7"/></clipPath>
<g clip-path="url(#cF14)">
<path class="md" d="M159.44 287.99h3.6"/>
<path class="wh" d="M169.12 283.21V279.23"/>
<path class="cap" d="M168.09 279.23h2.05"/>
<rect class="bx" x="167.07" y="283.21" width="4.1" height="4.78"/>
<path class="md" d="M167.07 287.99h4.1"/>
<path class="ol" d="M166.82 274.45h4.6M169.12 272.15v4.6"/>
<path class="ol" d="M174.69 287.99h4.6M176.99 285.69v4.6"/>
<path class="wh" d="M184.87 259.32V235.42"/>
<path class="cap" d="M183.85 235.42h2.05"/>
<path class="wh" d="M184.87 279.23V282.42"/>
<path class="cap" d="M183.85 282.42h2.05"/>
<rect class="bx" x="182.82" y="259.32" width="4.1" height="19.92"/>
<path class="md" d="M182.82 279.23h4.1"/>
<path class="wh" d="M192.75 268.34V264.36"/>
<path class="cap" d="M191.72 264.36h2.05"/>
<path class="wh" d="M192.75 282.95V287.73"/>
<path class="cap" d="M191.72 287.73h2.05"/>
<rect class="bx" x="190.7" y="268.34" width="4.1" height="14.6"/>
<path class="md" d="M190.7 274.45h4.1"/>
<path class="ol" d="M190.45 235.42h4.6M192.75 233.12v4.6"/>
<path class="ol" d="M190.45 244.18h4.6M192.75 241.88v4.6"/>
<path class="ol" d="M198.32 287.99h4.6M200.62 285.69v4.6"/>
<rect class="bx" x="206.45" y="283.75" width="4.1" height="2.12"/>
<path class="md" d="M206.45 284.81h4.1"/>
<path class="ol" d="M206.2 279.23h4.6M208.5 276.93v4.6"/>
<path class="ol" d="M206.2 287.99h4.6M208.5 285.69v4.6"/>
<path class="ol" d="M214.08 287.99h4.6M216.38 285.69v4.6"/>
<rect class="bx" x="222.21" y="279.23" width="4.1" height="8.76"/>
<path class="md" d="M222.21 279.23h4.1"/>
<path class="ol" d="M221.95 235.42h4.6M224.25 233.12v4.6"/>
<path class="ol" d="M221.95 244.18h4.6M224.25 241.88v4.6"/>
<path class="wh" d="M232.13 278.43V269.14"/>
<path class="cap" d="M231.11 269.14h2.05"/>
<path class="wh" d="M232.13 287.2V287.99"/>
<path class="cap" d="M231.11 287.99h2.05"/>
<rect class="bx" x="230.08" y="278.43" width="4.1" height="8.76"/>
<path class="md" d="M230.08 282.42h4.1"/>
<path class="wh" d="M240.01 265.16V252.68"/>
<path class="cap" d="M238.98 252.68h2.05"/>
<rect class="bx" x="237.96" y="265.16" width="4.1" height="22.84"/>
<path class="md" d="M237.96 279.23h4.1"/>
<path class="wh" d="M247.88 283.21V279.23"/>
<path class="cap" d="M246.86 279.23h2.05"/>
<rect class="bx" x="245.84" y="283.21" width="4.1" height="4.78"/>
<path class="md" d="M245.84 287.99h4.1"/>
<path class="ol" d="M245.58 231.43h4.6M247.88 229.13v4.6"/>
<path class="ol" d="M245.58 265.69h4.6M247.88 263.39v4.6"/>
<path class="ol" d="M253.46 287.99h4.6M255.76 285.69v4.6"/>
</g>
</g>
<g>
<rect x="301.5" y="229.1" width="97.2" height="63.2" fill="none" stroke="#000" stroke-width="0.35"/>
<path d="M305.24 229.1v1.1M305.24 292.3v-1.1M312.72 229.1v1.1M312.72 292.3v-1.1M320.19 229.1v1.1M320.19 292.3v-1.1M327.67 229.1v1.1M327.67 292.3v-1.1M335.15 229.1v1.1M335.15 292.3v-1.1M342.62 229.1v1.1M342.62 292.3v-1.1M350.1 229.1v1.1M350.1 292.3v-1.1M357.58 229.1v1.1M357.58 292.3v-1.1M365.05 229.1v1.1M365.05 292.3v-1.1M372.53 229.1v1.1M372.53 292.3v-1.1M380.01 229.1v1.1M380.01 292.3v-1.1M387.48 229.1v1.1M387.48 292.3v-1.1M394.96 229.1v1.1M394.96 292.3v-1.1M301.5 244.84h1.1M398.7 244.84h-1.1M301.5 275.59h1.1M398.7 275.59h-1.1M301.5 235.59h0.66M398.7 235.59h-0.66M301.5 230.18h0.66M398.7 230.18h-0.66M301.5 266.34h0.66M398.7 266.34h-0.66M301.5 260.92h0.66M398.7 260.92h-0.66M301.5 257.09h0.66M398.7 257.09h-0.66M301.5 254.09h0.66M398.7 254.09h-0.66M301.5 251.67h0.66M398.7 251.67h-0.66M301.5 249.61h0.66M398.7 249.61h-0.66M301.5 247.81h0.66M398.7 247.81h-0.66M301.5 246.25h0.66M398.7 246.25h-0.66M301.5 291.67h0.66M398.7 291.67h-0.66M301.5 287.84h0.66M398.7 287.84h-0.66M301.5 284.84h0.66M398.7 284.84h-0.66M301.5 282.42h0.66M398.7 282.42h-0.66M301.5 280.36h0.66M398.7 280.36h-0.66M301.5 278.56h0.66M398.7 278.56h-0.66M301.5 277h0.66M398.7 277h-0.66" stroke="#000" stroke-width="0.4" fill="none"/>
<text class="tl lg" x="299.8" y="247.44" text-anchor="end">10<tspan class="sup" dy="-2.7">-2</tspan></text>
<text class="tl lg" x="299.8" y="278.19" text-anchor="end">10<tspan class="sup" dy="-2.7">-3</tspan></text>
<text class="tl" transform="translate(307.94 295.2) rotate(-90) scale(1 1.15)" text-anchor="end">SSVUBA</text>
<text class="tl" transform="translate(315.42 295.2) rotate(-90) scale(1 1.15)" text-anchor="end">HBA</text>
<text class="tl" transform="translate(322.89 295.2) rotate(-90) scale(1 1.15)" text-anchor="end">AHA</text>
<text class="tl" transform="translate(330.37 295.2) rotate(-90) scale(1 1.15)" text-anchor="end">RSA</text>
<text class="tl" transform="translate(337.85 295.2) rotate(-90) scale(1 1.15)" text-anchor="end">RFO</text>
<text class="tl" transform="translate(345.32 295.2) rotate(-90) scale(1 1.15)" text-anchor="end">MPA</text>
<text class="tl" transform="translate(352.8 295.2) rotate(-90) scale(1 1.15)" text-anchor="end">TSA</text>
<text class="tl" transform="translate(360.28 295.2) rotate(-90) scale(1 1.15)" text-anchor="end">WOA</text>
<text class="tl" transform="translate(367.75 295.2) rotate(-90) scale(1 1.15)" text-anchor="end">GWO</text>
<text class="tl" transform="translate(375.23 295.2) rotate(-90) scale(1 1.15)" text-anchor="end">TLBO</text>
<text class="tl" transform="translate(382.71 295.2) rotate(-90) scale(1 1.15)" text-anchor="end">GSA</text>
<text class="tl" transform="translate(390.18 295.2) rotate(-90) scale(1 1.15)" text-anchor="end">PSO</text>
<text class="tl" transform="translate(397.66 295.2) rotate(-90) scale(1 1.15)" text-anchor="end">GA</text>
<text class="tt" x="350.1" y="227.4" text-anchor="middle">F15</text>
<text class="lb" transform="translate(350.1 328.1) scale(1.0 1)" text-anchor="middle">algorithm</text>
<text class="lb" transform="translate(285.6 260.7) rotate(-90) scale(1.0 1)" text-anchor="middle">objective function</text>
<clipPath id="cF15"><rect x="299.5" y="226.1" width="101.2" height="69.2"/></clipPath>
<g clip-path="url(#cF15)">
<path class="md" d="M303.53 290.18h3.42"/>
<path class="wh" d="M312.72 242.24V231.82"/>
<path class="cap" d="M311.74 231.82h1.94"/>
<rect class="bx" x="310.77" y="242.24" width="3.89" height="47.94"/>
<path class="md" d="M310.77 290.18h3.89"/>
<rect class="bx" x="318.25" y="283.93" width="3.89" height="6.25"/>
<path class="md" d="M318.25 290.18h3.89"/>
<path class="ol" d="M317.89 233.38h4.6M320.19 231.08v4.6"/>
<path class="ol" d="M317.89 254.75h4.6M320.19 252.45v4.6"/>
<path class="ol" d="M317.89 257.87h4.6M320.19 255.57v4.6"/>
<path class="wh" d="M327.67 262.3V257.35"/>
<path class="cap" d="M326.7 257.35h1.94"/>
<path class="wh" d="M327.67 271.42V277.41"/>
<path class="cap" d="M326.7 277.41h1.94"/>
<rect class="bx" x="325.73" y="262.3" width="3.89" height="9.12"/>
<path class="md" d="M325.73 269.6h3.89"/>
<path class="ol" d="M325.37 244.06h4.6M327.67 241.76v4.6"/>
<path class="ol" d="M325.37 254.22h4.6M327.67 251.92v4.6"/>
<path class="wh" d="M335.15 266.21V264.39"/>
<path class="cap" d="M334.17 264.39h1.94"/>
<rect class="bx" x="333.2" y="266.21" width="3.89" height="23.97"/>
<path class="md" d="M333.2 280.02h3.89"/>
<path class="ol" d="M332.85 232.34h4.6M335.15 230.04v4.6"/>
<path class="ol" d="M340.32 232.34h4.6M342.62 230.04v4.6"/>
<path class="ol" d="M340.32 239.89h4.6M342.62 237.59v4.6"/>
<path class="ol" d="M340.32 256.57h4.6M342.62 254.27v4.6"/>
<path class="ol" d="M340.32 259.96h4.6M342.62 257.66v4.6"/>
<path class="ol" d="M340.32 275.59h4.6M342.62 273.29v4.6"/>
<path class="ol" d="M340.32 285.75h4.6M342.62 283.45v4.6"/>
<path class="ol" d="M340.32 291.48h4.6M342.62 289.18v4.6"/>
<path class="wh" d="M350.1 283.93V282.62"/>
<path class="cap" d="M349.13 282.62h1.94"/>
<rect class="bx" x="348.16" y="283.93" width="3.89" height="4.43"/>
<path class="md" d="M348.16 286.53h3.89"/>
<path class="wh" d="M357.58 258.65V262.82"/>
<path class="cap" d="M356.6 262.82h1.94"/>
<rect class="bx" x="355.63" y="254.75" width="3.89" height="3.91"/>
<path class="md" d="M355.63 256.31h3.89"/>
<path class="ol" d="M355.28 269.6h4.6M357.58 267.3v4.6"/>
<path class="ol" d="M355.28 285.23h4.6M357.58 282.93v4.6"/>
<rect class="bx" x="363.11" y="233.64" width="3.89" height="56.54"/>
<path class="wh" d="M372.53 256.57V255.79"/>
<path class="cap" d="M371.56 255.79h1.94"/>
<path class="wh" d="M372.53 259.7V263.08"/>
<path class="cap" d="M371.56 263.08h1.94"/>
<rect class="bx" x="370.59" y="256.57" width="3.89" height="3.13"/>
<path class="md" d="M370.59 257.87h3.89"/>
<path class="wh" d="M380.01 262.3V259.96"/>
<path class="cap" d="M379.04 259.96h1.94"/>
<rect class="bx" x="378.06" y="262.3" width="3.89" height="3.91"/>
<path class="md" d="M378.06 263.86h3.89"/>
<path class="ol" d="M377.71 247.97h4.6M380.01 245.67v4.6"/>
<path class="ol" d="M377.71 276.89h4.6M380.01 274.59v4.6"/>
<path class="wh" d="M387.48 273.5V268.82"/>
<path class="cap" d="M386.51 268.82h1.94"/>
<rect class="bx" x="385.54" y="273.5" width="3.89" height="16.68"/>
<path class="md" d="M385.54 290.18h3.89"/>
<path class="ol" d="M385.18 232.34h4.6M387.48 230.04v4.6"/>
<path class="wh" d="M394.96 253.18V250.84"/>
<path class="cap" d="M393.99 250.84h1.94"/>
<path class="wh" d="M394.96 276.89V278.72"/>
<path class="cap" d="M393.99 278.72h1.94"/>
<rect class="bx" x="393.02" y="253.18" width="3.89" height="23.71"/>
<path class="md" d="M393.02 264.39h3.89"/>
<path class="ol" d="M392.66 231.3h4.6M394.96 229v4.6"/>
<path class="ol" d="M392.66 232.86h4.6M394.96 230.56v4.6"/>
</g>
</g>
<g>
<rect x="22.65" y="338.9" width="96.75" height="63.6" fill="none" stroke="#000" stroke-width="0.35"/>
<path d="M26.37 338.9v1.1M26.37 402.5v-1.1M33.81 338.9v1.1M33.81 402.5v-1.1M41.26 338.9v1.1M41.26 402.5v-1.1M48.7 338.9v1.1M48.7 402.5v-1.1M56.14 338.9v1.1M56.14 402.5v-1.1M63.58 338.9v1.1M63.58 402.5v-1.1M71.03 338.9v1.1M71.03 402.5v-1.1M78.47 338.9v1.1M78.47 402.5v-1.1M85.91 338.9v1.1M85.91 402.5v-1.1M93.35 338.9v1.1M93.35 402.5v-1.1M100.79 338.9v1.1M100.79 402.5v-1.1M108.24 338.9v1.1M108.24 402.5v-1.1M115.68 338.9v1.1M115.68 402.5v-1.1M22.65 340.9h1.1M119.4 340.9h-1.1M22.65 355.15h1.1M119.4 355.15h-1.1M22.65 369.39h1.1M119.4 369.39h-1.1M22.65 383.64h1.1M119.4 383.64h-1.1M22.65 397.89h1.1M119.4 397.89h-1.1" stroke="#000" stroke-width="0.4" fill="none"/>
<text class="tl" transform="translate(20.95 343.3) scale(1.0 1.15)" text-anchor="end">-0.2</text>
<text class="tl" transform="translate(20.95 357.55) scale(1.0 1.15)" text-anchor="end">-0.4</text>
<text class="tl" transform="translate(20.95 371.79) scale(1.0 1.15)" text-anchor="end">-0.6</text>
<text class="tl" transform="translate(20.95 386.04) scale(1.0 1.15)" text-anchor="end">-0.8</text>
<text class="tl" transform="translate(20.95 400.29) scale(1.0 1.15)" text-anchor="end">-1</text>
<text class="tl" transform="translate(29.07 405.4) rotate(-90) scale(1 1.15)" text-anchor="end">SSVUBA</text>
<text class="tl" transform="translate(36.51 405.4) rotate(-90) scale(1 1.15)" text-anchor="end">HBA</text>
<text class="tl" transform="translate(43.96 405.4) rotate(-90) scale(1 1.15)" text-anchor="end">AHA</text>
<text class="tl" transform="translate(51.4 405.4) rotate(-90) scale(1 1.15)" text-anchor="end">RSA</text>
<text class="tl" transform="translate(58.84 405.4) rotate(-90) scale(1 1.15)" text-anchor="end">RFO</text>
<text class="tl" transform="translate(66.28 405.4) rotate(-90) scale(1 1.15)" text-anchor="end">MPA</text>
<text class="tl" transform="translate(73.73 405.4) rotate(-90) scale(1 1.15)" text-anchor="end">TSA</text>
<text class="tl" transform="translate(81.17 405.4) rotate(-90) scale(1 1.15)" text-anchor="end">WOA</text>
<text class="tl" transform="translate(88.61 405.4) rotate(-90) scale(1 1.15)" text-anchor="end">GWO</text>
<text class="tl" transform="translate(96.05 405.4) rotate(-90) scale(1 1.15)" text-anchor="end">TLBO</text>
<text class="tl" transform="translate(103.49 405.4) rotate(-90) scale(1 1.15)" text-anchor="end">GSA</text>
<text class="tl" transform="translate(110.94 405.4) rotate(-90) scale(1 1.15)" text-anchor="end">PSO</text>
<text class="tl" transform="translate(118.38 405.4) rotate(-90) scale(1 1.15)" text-anchor="end">GA</text>
<text class="tt" x="71.03" y="337.2" text-anchor="middle">F16</text>
<text class="lb" transform="translate(71.03 438.1) scale(1.0 1)" text-anchor="middle">algorithm</text>
<text class="lb" transform="translate(7.6 370.7) rotate(-90) scale(1.0 1)" text-anchor="middle">objective function</text>
<clipPath id="cF16"><rect x="20.65" y="335.9" width="100.75" height="69.6"/></clipPath>
<g clip-path="url(#cF16)">
<path class="ol" d="M24.07 399.17h4.6M26.37 396.87v4.6"/>
<path class="ol" d="M31.51 399.17h4.6M33.81 396.87v4.6"/>
<path class="ol" d="M38.96 399.17h4.6M41.26 396.87v4.6"/>
<path class="md" d="M47 399.17h3.41"/>
<path class="ol" d="M46.4 397h4.6M48.7 394.7v4.6"/>
<path class="md" d="M54.44 399.17h3.41"/>
<path class="ol" d="M53.84 341.67h4.6M56.14 339.37v4.6"/>
<path class="ol" d="M61.28 399.17h4.6M63.58 396.87v4.6"/>
<path class="md" d="M69.32 399.17h3.41"/>
<path class="ol" d="M76.17 399.17h4.6M78.47 396.87v4.6"/>
<path class="ol" d="M83.61 399.17h4.6M85.91 396.87v4.6"/>
<path class="md" d="M91.65 399.17h3.41"/>
<path class="md" d="M99.09 399.17h3.41"/>
<path class="md" d="M106.53 399.17h3.41"/>
<path class="ol" d="M113.38 399.17h4.6M115.68 396.87v4.6"/>
</g>
</g>
<g>
<rect x="160.6" y="338.7" width="99.1" height="63.3" fill="none" stroke="#000" stroke-width="0.35"/>
<path d="M164.41 338.7v1.1M164.41 402v-1.1M172.03 338.7v1.1M172.03 402v-1.1M179.66 338.7v1.1M179.66 402v-1.1M187.28 338.7v1.1M187.28 402v-1.1M194.9 338.7v1.1M194.9 402v-1.1M202.53 338.7v1.1M202.53 402v-1.1M210.15 338.7v1.1M210.15 402v-1.1M217.77 338.7v1.1M217.77 402v-1.1M225.4 338.7v1.1M225.4 402v-1.1M233.02 338.7v1.1M233.02 402v-1.1M240.64 338.7v1.1M240.64 402v-1.1M248.27 338.7v1.1M248.27 402v-1.1M255.89 338.7v1.1M255.89 402v-1.1M160.6 361.61h1.1M259.7 361.61h-1.1" stroke="#000" stroke-width="0.4" fill="none"/>
<text class="tl lg" x="158.9" y="364.21" text-anchor="end">10<tspan class="sup" dy="-2.7">0</tspan></text>
<text class="tl" transform="translate(167.11 404.9) rotate(-90) scale(1 1.15)" text-anchor="end">SSVUBA</text>
<text class="tl" transform="translate(174.73 404.9) rotate(-90) scale(1 1.15)" text-anchor="end">HBA</text>
<text class="tl" transform="translate(182.36 404.9) rotate(-90) scale(1 1.15)" text-anchor="end">AHA</text>
<text class="tl" transform="translate(189.98 404.9) rotate(-90) scale(1 1.15)" text-anchor="end">RSA</text>
<text class="tl" transform="translate(197.6 404.9) rotate(-90) scale(1 1.15)" text-anchor="end">RFO</text>
<text class="tl" transform="translate(205.23 404.9) rotate(-90) scale(1 1.15)" text-anchor="end">MPA</text>
<text class="tl" transform="translate(212.85 404.9) rotate(-90) scale(1 1.15)" text-anchor="end">TSA</text>
<text class="tl" transform="translate(220.47 404.9) rotate(-90) scale(1 1.15)" text-anchor="end">WOA</text>
<text class="tl" transform="translate(228.1 404.9) rotate(-90) scale(1 1.15)" text-anchor="end">GWO</text>
<text class="tl" transform="translate(235.72 404.9) rotate(-90) scale(1 1.15)" text-anchor="end">TLBO</text>
<text class="tl" transform="translate(243.34 404.9) rotate(-90) scale(1 1.15)" text-anchor="end">GSA</text>
<text class="tl" transform="translate(250.97 404.9) rotate(-90) scale(1 1.15)" text-anchor="end">PSO</text>
<text class="tl" transform="translate(258.59 404.9) rotate(-90) scale(1 1.15)" text-anchor="end">GA</text>
<text class="tt" x="210.15" y="337" text-anchor="middle">F17</text>
<text class="lb" transform="translate(210.15 438.1) scale(1.0 1)" text-anchor="middle">algorithm</text>
<text class="lb" transform="translate(145.8 370.35) rotate(-90) scale(1.0 1)" text-anchor="middle">objective function</text>
<clipPath id="cF17"><rect x="158.6" y="335.7" width="103.1" height="69.3"/></clipPath>
<g clip-path="url(#cF17)">
<path class="ol" d="M162.11 378.65h4.6M164.41 376.35v4.6"/>
<path class="md" d="M170.29 378.65h3.49"/>
<path class="md" d="M177.91 378.65h3.49"/>
<rect class="bx" x="185.68" y="376.58" width="3.2" height="1.81"/>
<path class="md" d="M185.68 378.13h3.2"/>
<path class="ol" d="M184.98 367.03h4.6M187.28 364.73v4.6"/>
<path class="ol" d="M184.98 370.9h4.6M187.28 368.6v4.6"/>
<path class="ol" d="M192.6 378.65h4.6M194.9 376.35v4.6"/>
<path class="ol" d="M200.23 378.65h4.6M202.53 376.35v4.6"/>
<path class="ol" d="M207.85 378.65h4.6M210.15 376.35v4.6"/>
<path class="ol" d="M215.47 378.65h4.6M217.77 376.35v4.6"/>
<path class="ol" d="M223.1 378.65h4.6M225.4 376.35v4.6"/>
<path class="md" d="M231.28 378.65h3.49"/>
<path class="md" d="M238.9 378.65h3.49"/>
<path class="wh" d="M248.27 364.45V354.65"/>
<path class="cap" d="M247.27 354.65h1.98"/>
<rect class="bx" x="246.28" y="364.45" width="3.96" height="14.19"/>
<path class="md" d="M246.28 378.65h3.96"/>
<path class="ol" d="M245.97 338.65h4.6M248.27 336.35v4.6"/>
<path class="ol" d="M245.97 344.84h4.6M248.27 342.54v4.6"/>
<path class="md" d="M254.14 378.65h3.49"/>
<path class="ol" d="M253.59 359.29h4.6M255.89 356.99v4.6"/>
<path class="ol" d="M253.59 371.94h4.6M255.89 369.64v4.6"/>
</g>
</g>
<g>
<rect x="297.5" y="339" width="101" height="63.3" fill="none" stroke="#000" stroke-width="0.35"/>
<path d="M301.38 339v1.1M301.38 402.3v-1.1M309.15 339v1.1M309.15 402.3v-1.1M316.92 339v1.1M316.92 402.3v-1.1M324.69 339v1.1M324.69 402.3v-1.1M332.46 339v1.1M332.46 402.3v-1.1M340.23 339v1.1M340.23 402.3v-1.1M348 339v1.1M348 402.3v-1.1M355.77 339v1.1M355.77 402.3v-1.1M363.54 339v1.1M363.54 402.3v-1.1M371.31 339v1.1M371.31 402.3v-1.1M379.08 339v1.1M379.08 402.3v-1.1M386.85 339v1.1M386.85 402.3v-1.1M394.62 339v1.1M394.62 402.3v-1.1M297.5 395.51h1.1M398.5 395.51h-1.1M297.5 383.77h1.1M398.5 383.77h-1.1M297.5 372.01h1.1M398.5 372.01h-1.1M297.5 360.27h1.1M398.5 360.27h-1.1M297.5 348.5h1.1M398.5 348.5h-1.1" stroke="#000" stroke-width="0.4" fill="none"/>
<text class="tl" transform="translate(295.8 397.91) scale(1.0 1.15)" text-anchor="end">0</text>
<text class="tl" transform="translate(295.8 386.17) scale(1.0 1.15)" text-anchor="end">20</text>
<text class="tl" transform="translate(295.8 374.41) scale(1.0 1.15)" text-anchor="end">40</text>
<text class="tl" transform="translate(295.8 362.67) scale(1.0 1.15)" text-anchor="end">60</text>
<text class="tl" transform="translate(295.8 350.9) scale(1.0 1.15)" text-anchor="end">80</text>
<text class="tl" transform="translate(304.08 405.2) rotate(-90) scale(1 1.15)" text-anchor="end">SSVUBA</text>
<text class="tl" transform="translate(311.85 405.2) rotate(-90) scale(1 1.15)" text-anchor="end">HBA</text>
<text class="tl" transform="translate(319.62 405.2) rotate(-90) scale(1 1.15)" text-anchor="end">AHA</text>
<text class="tl" transform="translate(327.39 405.2) rotate(-90) scale(1 1.15)" text-anchor="end">RSA</text>
<text class="tl" transform="translate(335.16 405.2) rotate(-90) scale(1 1.15)" text-anchor="end">RFO</text>
<text class="tl" transform="translate(342.93 405.2) rotate(-90) scale(1 1.15)" text-anchor="end">MPA</text>
<text class="tl" transform="translate(350.7 405.2) rotate(-90) scale(1 1.15)" text-anchor="end">TSA</text>
<text class="tl" transform="translate(358.47 405.2) rotate(-90) scale(1 1.15)" text-anchor="end">WOA</text>
<text class="tl" transform="translate(366.24 405.2) rotate(-90) scale(1 1.15)" text-anchor="end">GWO</text>
<text class="tl" transform="translate(374.01 405.2) rotate(-90) scale(1 1.15)" text-anchor="end">TLBO</text>
<text class="tl" transform="translate(381.78 405.2) rotate(-90) scale(1 1.15)" text-anchor="end">GSA</text>
<text class="tl" transform="translate(389.55 405.2) rotate(-90) scale(1 1.15)" text-anchor="end">PSO</text>
<text class="tl" transform="translate(397.32 405.2) rotate(-90) scale(1 1.15)" text-anchor="end">GA</text>
<text class="tt" x="348" y="337.3" text-anchor="middle">F18</text>
<text class="lb" transform="translate(348 438.1) scale(1.0 1)" text-anchor="middle">algorithm</text>
<text class="lb" transform="translate(286.6 370.65) rotate(-90) scale(1.0 1)" text-anchor="middle">objective function</text>
<clipPath id="cF18"><rect x="295.5" y="336" width="105" height="69.3"/></clipPath>
<g clip-path="url(#cF18)">
<path class="ol" d="M299.08 393.77h4.6M301.38 391.47v4.6"/>
<path class="md" d="M307.38 393.77h3.56"/>
<path class="ol" d="M306.85 377.42h4.6M309.15 375.12v4.6"/>
<path class="ol" d="M314.62 393.77h4.6M316.92 391.47v4.6"/>
<path class="ol" d="M322.39 393.77h4.6M324.69 391.47v4.6"/>
<path class="ol" d="M322.39 341.5h4.6M324.69 339.2v4.6"/>
<rect class="bx" x="330.44" y="377.69" width="4.04" height="16.08"/>
<path class="md" d="M330.44 393.77h4.04"/>
<path class="ol" d="M330.16 346.06h4.6M332.46 343.76v4.6"/>
<path class="md" d="M338.45 393.77h3.56"/>
<path class="ol" d="M345.7 393.77h4.6M348 391.47v4.6"/>
<path class="ol" d="M353.47 393.77h4.6M355.77 391.47v4.6"/>
<path class="md" d="M361.76 393.77h3.56"/>
<path class="ol" d="M369.01 393.77h4.6M371.31 391.47v4.6"/>
<path class="md" d="M377.3 393.77h3.56"/>
<path class="ol" d="M384.55 393.77h4.6M386.85 391.47v4.6"/>
<path class="ol" d="M392.32 393.77h4.6M394.62 391.47v4.6"/>
<path class="ol" d="M392.32 377.42h4.6M394.62 375.12v4.6"/>
</g>
</g>
<g>
<rect x="22.5" y="448.4" width="98.1" height="63.7" fill="none" stroke="#000" stroke-width="0.35"/>
<path d="M26.27 448.4v1.1M26.27 512.1v-1.1M33.82 448.4v1.1M33.82 512.1v-1.1M41.37 448.4v1.1M41.37 512.1v-1.1M48.91 448.4v1.1M48.91 512.1v-1.1M56.46 448.4v1.1M56.46 512.1v-1.1M64 448.4v1.1M64 512.1v-1.1M71.55 448.4v1.1M71.55 512.1v-1.1M79.1 448.4v1.1M79.1 512.1v-1.1M86.64 448.4v1.1M86.64 512.1v-1.1M94.19 448.4v1.1M94.19 512.1v-1.1M101.73 448.4v1.1M101.73 512.1v-1.1M109.28 448.4v1.1M109.28 512.1v-1.1M116.83 448.4v1.1M116.83 512.1v-1.1M22.5 459.49h1.1M120.6 459.49h-1.1M22.5 474.41h1.1M120.6 474.41h-1.1M22.5 489.39h1.1M120.6 489.39h-1.1M22.5 504.31h1.1M120.6 504.31h-1.1" stroke="#000" stroke-width="0.4" fill="none"/>
<text class="tl" transform="translate(20.8 461.89) scale(1.0 1.15)" text-anchor="end">-3.2</text>
<text class="tl" transform="translate(20.8 476.81) scale(1.0 1.15)" text-anchor="end">-3.4</text>
<text class="tl" transform="translate(20.8 491.79) scale(1.0 1.15)" text-anchor="end">-3.6</text>
<text class="tl" transform="translate(20.8 506.71) scale(1.0 1.15)" text-anchor="end">-3.8</text>
<text class="tl" transform="translate(28.97 515) rotate(-90) scale(1 1.15)" text-anchor="end">SSVUBA</text>
<text class="tl" transform="translate(36.52 515) rotate(-90) scale(1 1.15)" text-anchor="end">HBA</text>
<text class="tl" transform="translate(44.07 515) rotate(-90) scale(1 1.15)" text-anchor="end">AHA</text>
<text class="tl" transform="translate(51.61 515) rotate(-90) scale(1 1.15)" text-anchor="end">RSA</text>
<text class="tl" transform="translate(59.16 515) rotate(-90) scale(1 1.15)" text-anchor="end">RFO</text>
<text class="tl" transform="translate(66.7 515) rotate(-90) scale(1 1.15)" text-anchor="end">MPA</text>
<text class="tl" transform="translate(74.25 515) rotate(-90) scale(1 1.15)" text-anchor="end">TSA</text>
<text class="tl" transform="translate(81.8 515) rotate(-90) scale(1 1.15)" text-anchor="end">WOA</text>
<text class="tl" transform="translate(89.34 515) rotate(-90) scale(1 1.15)" text-anchor="end">GWO</text>
<text class="tl" transform="translate(96.89 515) rotate(-90) scale(1 1.15)" text-anchor="end">TLBO</text>
<text class="tl" transform="translate(104.43 515) rotate(-90) scale(1 1.15)" text-anchor="end">GSA</text>
<text class="tl" transform="translate(111.98 515) rotate(-90) scale(1 1.15)" text-anchor="end">PSO</text>
<text class="tl" transform="translate(119.53 515) rotate(-90) scale(1 1.15)" text-anchor="end">GA</text>
<text class="tt" x="71.55" y="446.7" text-anchor="middle">F19</text>
<text class="lb" transform="translate(71.55 548.1) scale(1.0 1)" text-anchor="middle">algorithm</text>
<text class="lb" transform="translate(7.6 480.25) rotate(-90) scale(1.0 1)" text-anchor="middle">objective function</text>
<clipPath id="cF19"><rect x="20.5" y="445.4" width="102.1" height="69.7"/></clipPath>
<g clip-path="url(#cF19)">
<path class="ol" d="M23.97 508.91h4.6M26.27 506.61v4.6"/>
<rect class="bx" x="31.92" y="508.4" width="3.8" height="0.77"/>
<path class="md" d="M31.92 508.78h3.8"/>
<path class="ol" d="M39.07 508.91h4.6M41.37 506.61v4.6"/>
<path class="wh" d="M48.91 500.73V493.83"/>
<path class="cap" d="M47.93 493.83h1.96"/>
<rect class="bx" x="46.95" y="500.73" width="3.92" height="5.88"/>
<path class="md" d="M46.95 504.06h3.92"/>
<rect class="bx" x="54.56" y="508.4" width="3.8" height="0.77"/>
<path class="md" d="M54.56 508.78h3.8"/>
<path class="ol" d="M54.16 451.16h4.6M56.46 448.86v4.6"/>
<path class="ol" d="M61.7 508.91h4.6M64 506.61v4.6"/>
<path class="md" d="M69.82 506.87h3.45"/>
<path class="ol" d="M69.25 500.73h4.6M71.55 498.43v4.6"/>
<path class="ol" d="M69.25 503.55h4.6M71.55 501.25v4.6"/>
<path class="ol" d="M69.25 505.59h4.6M71.55 503.29v4.6"/>
<path class="ol" d="M69.25 506.61h4.6M71.55 504.31v4.6"/>
<path class="ol" d="M76.8 508.91h4.6M79.1 506.61v4.6"/>
<path class="ol" d="M84.34 508.91h4.6M86.64 506.61v4.6"/>
<path class="ol" d="M84.34 509.17h4.6M86.64 506.87v4.6"/>
<path class="ol" d="M91.89 508.91h4.6M94.19 506.61v4.6"/>
<path class="ol" d="M99.43 508.91h4.6M101.73 506.61v4.6"/>
<path class="md" d="M107.55 508.91h3.45"/>
<rect class="bx" x="114.93" y="507.63" width="3.8" height="0.77"/>
<path class="md" d="M114.93 507.89h3.8"/>
<path class="ol" d="M114.53 505.33h4.6M116.83 503.03v4.6"/>
<path class="ol" d="M114.53 507.12h4.6M116.83 504.82v4.6"/>
</g>
</g>
<g>
<rect x="162.15" y="449.4" width="96.45" height="62.1" fill="none" stroke="#000" stroke-width="0.35"/>
<path d="M165.86 449.4v1.1M165.86 511.5v-1.1M173.28 449.4v1.1M173.28 511.5v-1.1M180.7 449.4v1.1M180.7 511.5v-1.1M188.12 449.4v1.1M188.12 511.5v-1.1M195.54 449.4v1.1M195.54 511.5v-1.1M202.96 449.4v1.1M202.96 511.5v-1.1M210.38 449.4v1.1M210.38 511.5v-1.1M217.79 449.4v1.1M217.79 511.5v-1.1M225.21 449.4v1.1M225.21 511.5v-1.1M232.63 449.4v1.1M232.63 511.5v-1.1M240.05 449.4v1.1M240.05 511.5v-1.1M247.47 449.4v1.1M247.47 511.5v-1.1M254.89 449.4v1.1M254.89 511.5v-1.1M162.15 462.32h1.1M258.6 462.32h-1.1M162.15 479.61h1.1M258.6 479.61h-1.1M162.15 496.9h1.1M258.6 496.9h-1.1" stroke="#000" stroke-width="0.4" fill="none"/>
<text class="tl" transform="translate(161.15 462.32) rotate(-90) scale(1 1.15)" text-anchor="middle">-2</text>
<text class="tl" transform="translate(161.15 479.61) rotate(-90) scale(1 1.15)" text-anchor="middle">-2.5</text>
<text class="tl" transform="translate(161.15 496.9) rotate(-90) scale(1 1.15)" text-anchor="middle">-3</text>
<text class="tl" transform="translate(168.56 514.4) rotate(-90) scale(1 1.15)" text-anchor="end">SSVUBA</text>
<text class="tl" transform="translate(175.98 514.4) rotate(-90) scale(1 1.15)" text-anchor="end">HBA</text>
<text class="tl" transform="translate(183.4 514.4) rotate(-90) scale(1 1.15)" text-anchor="end">AHA</text>
<text class="tl" transform="translate(190.82 514.4) rotate(-90) scale(1 1.15)" text-anchor="end">RSA</text>
<text class="tl" transform="translate(198.24 514.4) rotate(-90) scale(1 1.15)" text-anchor="end">RFO</text>
<text class="tl" transform="translate(205.66 514.4) rotate(-90) scale(1 1.15)" text-anchor="end">MPA</text>
<text class="tl" transform="translate(213.07 514.4) rotate(-90) scale(1 1.15)" text-anchor="end">TSA</text>
<text class="tl" transform="translate(220.49 514.4) rotate(-90) scale(1 1.15)" text-anchor="end">WOA</text>
<text class="tl" transform="translate(227.91 514.4) rotate(-90) scale(1 1.15)" text-anchor="end">GWO</text>
<text class="tl" transform="translate(235.33 514.4) rotate(-90) scale(1 1.15)" text-anchor="end">TLBO</text>
<text class="tl" transform="translate(242.75 514.4) rotate(-90) scale(1 1.15)" text-anchor="end">GSA</text>
<text class="tl" transform="translate(250.17 514.4) rotate(-90) scale(1 1.15)" text-anchor="end">PSO</text>
<text class="tl" transform="translate(257.59 514.4) rotate(-90) scale(1 1.15)" text-anchor="end">GA</text>
<text class="tt" x="210.38" y="447.7" text-anchor="middle">F20</text>
<text class="lb" transform="translate(210.38 548.1) scale(1.0 1)" text-anchor="middle">algorithm</text>
<text class="lb" transform="translate(147.6 480.45) rotate(-90) scale(1.0 1)" text-anchor="middle">objective function</text>
<clipPath id="cF20"><rect x="160.15" y="446.4" width="100.45" height="68.1"/></clipPath>
<g clip-path="url(#cF20)">
<path class="ol" d="M163.56 507.23h4.6M165.86 504.93v4.6"/>
<path class="md" d="M171.58 507.23h3.4"/>
<path class="ol" d="M170.98 503.1h4.6M173.28 500.8v4.6"/>
<path class="ol" d="M178.4 503.1h4.6M180.7 500.8v4.6"/>
<path class="ol" d="M178.4 506.71h4.6M180.7 504.41v4.6"/>
<path class="wh" d="M188.12 480.9V466.71"/>
<path class="cap" d="M187.15 466.71h1.93"/>
<path class="wh" d="M188.12 494.32V498.19"/>
<path class="cap" d="M187.15 498.19h1.93"/>
<rect class="bx" x="186.19" y="480.9" width="3.86" height="13.42"/>
<path class="md" d="M186.19 489.16h3.86"/>
<path class="ol" d="M185.82 451.74h4.6M188.12 449.44v4.6"/>
<path class="ol" d="M185.82 458.19h4.6M188.12 455.89v4.6"/>
<path class="wh" d="M195.54 503.35V499.48"/>
<path class="cap" d="M194.57 499.48h1.93"/>
<rect class="bx" x="193.61" y="503.35" width="3.86" height="3.87"/>
<path class="md" d="M193.61 507.23h3.86"/>
<path class="ol" d="M193.24 459.48h4.6M195.54 457.18v4.6"/>
<path class="ol" d="M200.66 507.23h4.6M202.96 504.93v4.6"/>
<path class="ol" d="M208.07 507.23h4.6M210.38 504.93v4.6"/>
<path class="ol" d="M208.07 507.48h4.6M210.38 505.18v4.6"/>
<path class="ol" d="M215.49 501.29h4.6M217.79 498.99v4.6"/>
<path class="ol" d="M215.49 503.35h4.6M217.79 501.05v4.6"/>
<path class="ol" d="M215.49 504.9h4.6M217.79 502.6v4.6"/>
<path class="ol" d="M215.49 506.71h4.6M217.79 504.41v4.6"/>
<path class="wh" d="M225.21 503.35V499.48"/>
<path class="cap" d="M224.25 499.48h1.93"/>
<rect class="bx" x="223.28" y="503.35" width="3.86" height="3.87"/>
<path class="md" d="M223.28 505.42h3.86"/>
<rect class="bx" x="230.93" y="502.58" width="3.4" height="2.06"/>
<path class="md" d="M230.93 503.61h3.4"/>
<path class="ol" d="M230.33 500.77h4.6M232.63 498.47v4.6"/>
<path class="ol" d="M230.33 503.35h4.6M232.63 501.05v4.6"/>
<path class="md" d="M238.35 507.23h3.4"/>
<path class="wh" d="M247.47 503.35V501.29"/>
<path class="cap" d="M246.51 501.29h1.93"/>
<rect class="bx" x="245.54" y="503.35" width="3.86" height="3.87"/>
<path class="md" d="M245.54 507.23h3.86"/>
<path class="wh" d="M254.89 484.52V462.58"/>
<path class="cap" d="M253.93 462.58h1.93"/>
<path class="wh" d="M254.89 499.48V507.23"/>
<path class="cap" d="M253.93 507.23h1.93"/>
<rect class="bx" x="252.96" y="484.52" width="3.86" height="14.97"/>
<path class="md" d="M252.96 495.61h3.86"/>
</g>
</g>
<g>
<rect x="299.7" y="449.3" width="98.2" height="62.1" fill="none" stroke="#000" stroke-width="0.35"/>
<path d="M303.48 449.3v1.1M303.48 511.4v-1.1M311.03 449.3v1.1M311.03 511.4v-1.1M318.58 449.3v1.1M318.58 511.4v-1.1M326.14 449.3v1.1M326.14 511.4v-1.1M333.69 449.3v1.1M333.69 511.4v-1.1M341.25 449.3v1.1M341.25 511.4v-1.1M348.8 449.3v1.1M348.8 511.4v-1.1M356.35 449.3v1.1M356.35 511.4v-1.1M363.91 449.3v1.1M363.91 511.4v-1.1M371.46 449.3v1.1M371.46 511.4v-1.1M379.02 449.3v1.1M379.02 511.4v-1.1M386.57 449.3v1.1M386.57 511.4v-1.1M394.12 449.3v1.1M394.12 511.4v-1.1M299.7 457.49h1.1M397.9 457.49h-1.1M299.7 467.21h1.1M397.9 467.21h-1.1M299.7 476.93h1.1M397.9 476.93h-1.1M299.7 486.62h1.1M397.9 486.62h-1.1M299.7 496.31h1.1M397.9 496.31h-1.1M299.7 506.03h1.1M397.9 506.03h-1.1" stroke="#000" stroke-width="0.4" fill="none"/>
<text class="tl" transform="translate(298.7 457.49) rotate(-90) scale(1 1.15)" text-anchor="middle">-2</text>
<text class="tl" transform="translate(298.7 467.21) rotate(-90) scale(1 1.15)" text-anchor="middle">-4</text>
<text class="tl" transform="translate(298 479.33) scale(1.0 1.15)" text-anchor="end">-6</text>
<text class="tl" transform="translate(298 489.02) scale(1.0 1.15)" text-anchor="end">-8</text>
<text class="tl" transform="translate(298 498.71) scale(1.0 1.15)" text-anchor="end">-10</text>
<text class="tl" transform="translate(298 508.43) scale(1.0 1.15)" text-anchor="end">-12</text>
<text class="tl" transform="translate(306.18 514.3) rotate(-90) scale(1 1.15)" text-anchor="end">SSVUBA</text>
<text class="tl" transform="translate(313.73 514.3) rotate(-90) scale(1 1.15)" text-anchor="end">HBA</text>
<text class="tl" transform="translate(321.28 514.3) rotate(-90) scale(1 1.15)" text-anchor="end">AHA</text>
<text class="tl" transform="translate(328.84 514.3) rotate(-90) scale(1 1.15)" text-anchor="end">RSA</text>
<text class="tl" transform="translate(336.39 514.3) rotate(-90) scale(1 1.15)" text-anchor="end">RFO</text>
<text class="tl" transform="translate(343.95 514.3) rotate(-90) scale(1 1.15)" text-anchor="end">MPA</text>
<text class="tl" transform="translate(351.5 514.3) rotate(-90) scale(1 1.15)" text-anchor="end">TSA</text>
<text class="tl" transform="translate(359.05 514.3) rotate(-90) scale(1 1.15)" text-anchor="end">WOA</text>
<text class="tl" transform="translate(366.61 514.3) rotate(-90) scale(1 1.15)" text-anchor="end">GWO</text>
<text class="tl" transform="translate(374.16 514.3) rotate(-90) scale(1 1.15)" text-anchor="end">TLBO</text>
<text class="tl" transform="translate(381.72 514.3) rotate(-90) scale(1 1.15)" text-anchor="end">GSA</text>
<text class="tl" transform="translate(389.27 514.3) rotate(-90) scale(1 1.15)" text-anchor="end">PSO</text>
<text class="tl" transform="translate(396.82 514.3) rotate(-90) scale(1 1.15)" text-anchor="end">GA</text>
<text class="tt" x="348.8" y="447.6" text-anchor="middle">F21</text>
<text class="lb" transform="translate(348.8 548.1) scale(1.0 1)" text-anchor="middle">algorithm</text>
<text class="lb" transform="translate(286.6 480.35) rotate(-90) scale(1.0 1)" text-anchor="middle">objective function</text>
<clipPath id="cF21"><rect x="297.7" y="446.3" width="102.2" height="68.1"/></clipPath>
<g clip-path="url(#cF21)">
<path class="md" d="M301.75 496.31h3.46"/>
<path class="wh" d="M311.03 459.93V451.43"/>
<path class="cap" d="M310.05 451.43h1.96"/>
<rect class="bx" x="309.07" y="459.93" width="3.93" height="36.38"/>
<path class="md" d="M309.07 496.31h3.93"/>
<path class="ol" d="M316.28 496.31h4.6M318.58 494.01v4.6"/>
<path class="md" d="M324.41 471.88h3.46"/>
<rect class="bx" x="331.89" y="495.78" width="3.6" height="1.06"/>
<path class="md" d="M331.89 496.31h3.6"/>
<path class="ol" d="M331.39 451.97h4.6M333.69 449.67v4.6"/>
<path class="ol" d="M331.39 460.46h4.6M333.69 458.16v4.6"/>
<path class="ol" d="M331.39 491.27h4.6M333.69 488.97v4.6"/>
<path class="ol" d="M338.95 486.49h4.6M341.25 484.19v4.6"/>
<path class="ol" d="M338.95 489.41h4.6M341.25 487.11v4.6"/>
<path class="ol" d="M338.95 492.59h4.6M341.25 490.29v4.6"/>
<path class="ol" d="M338.95 495.51h4.6M341.25 493.21v4.6"/>
<path class="wh" d="M348.8 469.23V464.71"/>
<path class="cap" d="M347.82 464.71h1.96"/>
<path class="wh" d="M348.8 474.01V478.52"/>
<path class="cap" d="M347.82 478.52h1.96"/>
<rect class="bx" x="346.84" y="469.23" width="3.93" height="4.78"/>
<path class="md" d="M346.84 470.55h3.93"/>
<path class="ol" d="M346.5 483.3h4.6M348.8 481v4.6"/>
<path class="ol" d="M354.05 482.77h4.6M356.35 480.47v4.6"/>
<path class="ol" d="M354.05 483.03h4.6M356.35 480.73v4.6"/>
<path class="ol" d="M354.05 483.3h4.6M356.35 481v4.6"/>
<path class="md" d="M362.18 496.31h3.46"/>
<path class="ol" d="M361.61 471.88h4.6M363.91 469.58v4.6"/>
<path class="ol" d="M369.16 492.33h4.6M371.46 490.03v4.6"/>
<path class="ol" d="M369.16 493.39h4.6M371.46 491.09v4.6"/>
<path class="ol" d="M369.16 494.45h4.6M371.46 492.15v4.6"/>
<path class="wh" d="M379.02 460.73V459.93"/>
<path class="cap" d="M378.03 459.93h1.96"/>
<path class="wh" d="M379.02 485.95V496.31"/>
<path class="cap" d="M378.03 496.31h1.96"/>
<rect class="bx" x="377.05" y="460.73" width="3.93" height="25.23"/>
<path class="md" d="M377.05 465.24h3.93"/>
<path class="wh" d="M386.57 484.36V496.31"/>
<path class="cap" d="M385.59 496.31h1.96"/>
<rect class="bx" x="384.61" y="460.73" width="3.93" height="23.63"/>
<path class="md" d="M384.61 471.88h3.93"/>
<path class="wh" d="M394.12 460.46V456.75"/>
<path class="cap" d="M393.14 456.75h1.96"/>
<path class="wh" d="M394.12 475.33V483.83"/>
<path class="cap" d="M393.14 483.83h1.96"/>
<rect class="bx" x="392.16" y="460.46" width="3.93" height="14.87"/>
<path class="md" d="M392.16 467.37h3.93"/>
</g>
</g>
</g>
</svg>
</body></html>
